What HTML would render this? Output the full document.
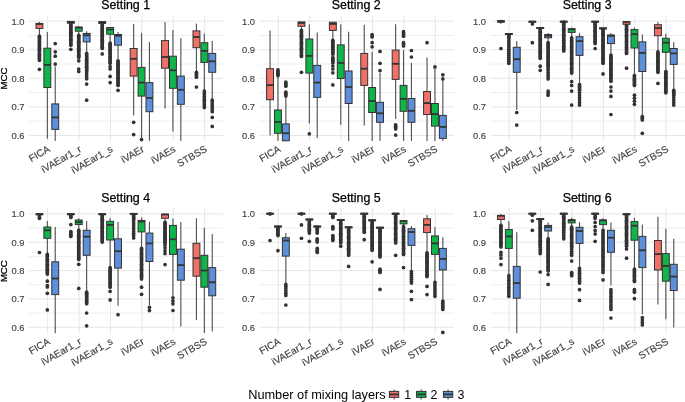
<!DOCTYPE html>
<html><head><meta charset="utf-8"><style>
html,body{margin:0;padding:0;background:#fff;}
svg{display:block;font-family:"Liberation Sans",sans-serif;will-change:transform;filter:blur(0.3px);}
.yt{font-size:9.4px;fill:#444;text-anchor:end;stroke:#444;stroke-width:0.15px;}
.xt{font-size:9.9px;fill:#404040;text-anchor:end;stroke:#404040;stroke-width:0.15px;}
.ti{font-size:12.4px;fill:#000;text-anchor:middle;stroke:#000;stroke-width:0.25px;}
.mc{font-size:9.6px;fill:#000;text-anchor:middle;stroke:#000;stroke-width:0.3px;}
.lg{font-size:12.4px;fill:#000;}
.wh{stroke:#555;stroke-width:1.15;}
.bx{stroke:#333;stroke-width:1;}
.md{stroke:#333;stroke-width:1.8;}
circle{fill:#333;}
</style></head><body>
<svg width="685" height="402" viewBox="0 0 685 402">
<rect width="685" height="402" fill="#fff"/>
<line x1="28.8" x2="223.48" y1="35.48" y2="35.48" stroke="#EBEBEB" stroke-width="0.85"/>
<line x1="28.8" x2="223.48" y1="64.03" y2="64.03" stroke="#EBEBEB" stroke-width="0.85"/>
<line x1="28.8" x2="223.48" y1="92.58" y2="92.58" stroke="#EBEBEB" stroke-width="0.85"/>
<line x1="28.8" x2="223.48" y1="121.13" y2="121.13" stroke="#EBEBEB" stroke-width="0.85"/>
<line x1="28.8" x2="223.48" y1="21.2" y2="21.2" stroke="#E6E6E6" stroke-width="1"/>
<line x1="28.8" x2="223.48" y1="49.75" y2="49.75" stroke="#E6E6E6" stroke-width="1"/>
<line x1="28.8" x2="223.48" y1="78.3" y2="78.3" stroke="#E6E6E6" stroke-width="1"/>
<line x1="28.8" x2="223.48" y1="106.85" y2="106.85" stroke="#E6E6E6" stroke-width="1"/>
<line x1="28.8" x2="223.48" y1="135.4" y2="135.4" stroke="#E6E6E6" stroke-width="1"/>
<line x1="47.64" x2="47.64" y1="15.7" y2="141.2" stroke="#E6E6E6" stroke-width="1"/>
<line x1="79.04" x2="79.04" y1="15.7" y2="141.2" stroke="#E6E6E6" stroke-width="1"/>
<line x1="110.44" x2="110.44" y1="15.7" y2="141.2" stroke="#E6E6E6" stroke-width="1"/>
<line x1="141.84" x2="141.84" y1="15.7" y2="141.2" stroke="#E6E6E6" stroke-width="1"/>
<line x1="173.24" x2="173.24" y1="15.7" y2="141.2" stroke="#E6E6E6" stroke-width="1"/>
<line x1="204.64" x2="204.64" y1="15.7" y2="141.2" stroke="#E6E6E6" stroke-width="1"/>
<text x="24.5" y="24.55" class="yt">1.0</text>
<text x="24.5" y="53.1" class="yt">0.9</text>
<text x="24.5" y="81.65" class="yt">0.8</text>
<text x="24.5" y="110.2" class="yt">0.7</text>
<text x="24.5" y="138.75" class="yt">0.6</text>
<text x="125.64" y="9.2" class="ti">Setting 1</text>
<line x1="39.44" x2="39.44" y1="21.9" y2="23.4" class="wh"/>
<line x1="39.44" x2="39.44" y1="28.4" y2="35.3" class="wh"/>
<rect x="35.99" y="23.4" width="6.9" height="5" fill="#EF7166" class="bx"/>
<line x1="35.99" x2="42.89" y1="24" y2="24" class="md"/>
<circle cx="39.44" cy="36.2" r="1.85"/>
<circle cx="39.44" cy="37.41" r="1.85"/>
<circle cx="39.44" cy="38.61" r="1.85"/>
<circle cx="39.44" cy="39.82" r="1.85"/>
<circle cx="39.44" cy="41.02" r="1.85"/>
<circle cx="39.44" cy="42.23" r="1.85"/>
<circle cx="39.44" cy="43.43" r="1.85"/>
<circle cx="39.44" cy="44.64" r="1.85"/>
<circle cx="39.44" cy="45.84" r="1.85"/>
<circle cx="39.44" cy="47.05" r="1.85"/>
<circle cx="39.44" cy="48.25" r="1.85"/>
<circle cx="39.44" cy="49.45" r="1.85"/>
<circle cx="39.44" cy="50.66" r="1.85"/>
<circle cx="39.44" cy="51.87" r="1.85"/>
<circle cx="39.44" cy="53.07" r="1.85"/>
<circle cx="39.44" cy="54.27" r="1.85"/>
<circle cx="39.44" cy="55.48" r="1.85"/>
<circle cx="39.44" cy="56.69" r="1.85"/>
<circle cx="39.44" cy="57.89" r="1.85"/>
<circle cx="39.44" cy="59.09" r="1.85"/>
<circle cx="39.44" cy="60.3" r="1.85"/>
<circle cx="39.44" cy="69.3" r="1.85"/>
<line x1="47.34" x2="47.34" y1="32.1" y2="48.2" class="wh"/>
<line x1="47.34" x2="47.34" y1="87.5" y2="138.8" class="wh"/>
<rect x="43.89" y="48.2" width="6.9" height="39.3" fill="#10B54A" class="bx"/>
<line x1="43.89" x2="50.79" y1="64.9" y2="64.9" class="md"/>
<line x1="55.24" x2="55.24" y1="66.5" y2="103.9" class="wh"/>
<line x1="55.24" x2="55.24" y1="129.4" y2="140.9" class="wh"/>
<rect x="51.79" y="103.9" width="6.9" height="25.5" fill="#5E8FDA" class="bx"/>
<line x1="51.79" x2="58.69" y1="117.4" y2="117.4" class="md"/>
<circle cx="55.24" cy="43.6" r="1.85"/>
<circle cx="55.24" cy="51.8" r="1.85"/>
<circle cx="55.24" cy="56.2" r="1.85"/>
<circle cx="55.24" cy="64.1" r="1.85"/>
<line x1="70.84" x2="70.84" y1="21.4" y2="21.4" class="wh"/>
<line x1="70.84" x2="70.84" y1="23.2" y2="23.4" class="wh"/>
<rect x="67.39" y="21.4" width="6.9" height="1.8" fill="#EF7166" class="bx"/>
<line x1="67.39" x2="74.29" y1="22.3" y2="22.3" class="md"/>
<circle cx="70.84" cy="23.9" r="1.85"/>
<circle cx="70.84" cy="25.08" r="1.85"/>
<circle cx="70.84" cy="26.27" r="1.85"/>
<circle cx="70.84" cy="27.45" r="1.85"/>
<circle cx="70.84" cy="28.63" r="1.85"/>
<circle cx="70.84" cy="29.82" r="1.85"/>
<circle cx="70.84" cy="31" r="1.85"/>
<circle cx="70.84" cy="32.18" r="1.85"/>
<circle cx="70.84" cy="33.37" r="1.85"/>
<circle cx="70.84" cy="34.55" r="1.85"/>
<circle cx="70.84" cy="35.73" r="1.85"/>
<circle cx="70.84" cy="36.92" r="1.85"/>
<circle cx="70.84" cy="38.1" r="1.85"/>
<circle cx="70.84" cy="39.28" r="1.85"/>
<circle cx="70.84" cy="40.47" r="1.85"/>
<circle cx="70.84" cy="41.65" r="1.85"/>
<circle cx="70.84" cy="42.83" r="1.85"/>
<circle cx="70.84" cy="44.02" r="1.85"/>
<circle cx="70.84" cy="45.2" r="1.85"/>
<circle cx="70.84" cy="49.3" r="1.85"/>
<line x1="78.74" x2="78.74" y1="26.3" y2="27.1" class="wh"/>
<line x1="78.74" x2="78.74" y1="31.2" y2="34.5" class="wh"/>
<rect x="75.29" y="27.1" width="6.9" height="4.1" fill="#10B54A" class="bx"/>
<line x1="75.29" x2="82.19" y1="27.6" y2="27.6" class="md"/>
<circle cx="78.74" cy="35.3" r="1.85"/>
<circle cx="78.74" cy="36.47" r="1.85"/>
<circle cx="78.74" cy="37.64" r="1.85"/>
<circle cx="78.74" cy="38.81" r="1.85"/>
<circle cx="78.74" cy="39.97" r="1.85"/>
<circle cx="78.74" cy="41.14" r="1.85"/>
<circle cx="78.74" cy="42.31" r="1.85"/>
<circle cx="78.74" cy="43.48" r="1.85"/>
<circle cx="78.74" cy="44.65" r="1.85"/>
<circle cx="78.74" cy="45.82" r="1.85"/>
<circle cx="78.74" cy="46.98" r="1.85"/>
<circle cx="78.74" cy="48.15" r="1.85"/>
<circle cx="78.74" cy="49.32" r="1.85"/>
<circle cx="78.74" cy="50.49" r="1.85"/>
<circle cx="78.74" cy="51.66" r="1.85"/>
<circle cx="78.74" cy="52.83" r="1.85"/>
<circle cx="78.74" cy="53.99" r="1.85"/>
<circle cx="78.74" cy="55.16" r="1.85"/>
<circle cx="78.74" cy="56.33" r="1.85"/>
<circle cx="78.74" cy="57.5" r="1.85"/>
<circle cx="78.74" cy="60.8" r="1.85"/>
<circle cx="78.74" cy="69" r="1.85"/>
<circle cx="78.74" cy="71.5" r="1.85"/>
<line x1="86.64" x2="86.64" y1="31.2" y2="33.4" class="wh"/>
<line x1="86.64" x2="86.64" y1="41.9" y2="53.4" class="wh"/>
<rect x="83.19" y="33.4" width="6.9" height="8.5" fill="#5E8FDA" class="bx"/>
<line x1="83.19" x2="90.09" y1="35.3" y2="35.3" class="md"/>
<circle cx="86.64" cy="53.4" r="1.85"/>
<circle cx="86.64" cy="54.56" r="1.85"/>
<circle cx="86.64" cy="55.73" r="1.85"/>
<circle cx="86.64" cy="56.89" r="1.85"/>
<circle cx="86.64" cy="58.05" r="1.85"/>
<circle cx="86.64" cy="59.21" r="1.85"/>
<circle cx="86.64" cy="60.38" r="1.85"/>
<circle cx="86.64" cy="61.54" r="1.85"/>
<circle cx="86.64" cy="62.7" r="1.85"/>
<circle cx="86.64" cy="63.86" r="1.85"/>
<circle cx="86.64" cy="65.03" r="1.85"/>
<circle cx="86.64" cy="66.19" r="1.85"/>
<circle cx="86.64" cy="67.35" r="1.85"/>
<circle cx="86.64" cy="68.51" r="1.85"/>
<circle cx="86.64" cy="69.67" r="1.85"/>
<circle cx="86.64" cy="70.84" r="1.85"/>
<circle cx="86.64" cy="72" r="1.85"/>
<circle cx="86.64" cy="74" r="1.85"/>
<circle cx="86.64" cy="76.4" r="1.85"/>
<circle cx="86.64" cy="78.8" r="1.85"/>
<circle cx="86.64" cy="84.1" r="1.85"/>
<circle cx="86.64" cy="100.2" r="1.85"/>
<line x1="102.24" x2="102.24" y1="21.5" y2="21.6" class="wh"/>
<line x1="102.24" x2="102.24" y1="23.4" y2="23.6" class="wh"/>
<rect x="98.79" y="21.6" width="6.9" height="1.8" fill="#EF7166" class="bx"/>
<line x1="98.79" x2="105.69" y1="22.5" y2="22.5" class="md"/>
<circle cx="102.24" cy="24.7" r="1.85"/>
<circle cx="102.24" cy="25.89" r="1.85"/>
<circle cx="102.24" cy="27.08" r="1.85"/>
<circle cx="102.24" cy="28.27" r="1.85"/>
<circle cx="102.24" cy="29.46" r="1.85"/>
<circle cx="102.24" cy="30.65" r="1.85"/>
<circle cx="102.24" cy="31.84" r="1.85"/>
<circle cx="102.24" cy="33.03" r="1.85"/>
<circle cx="102.24" cy="34.22" r="1.85"/>
<circle cx="102.24" cy="35.41" r="1.85"/>
<circle cx="102.24" cy="36.6" r="1.85"/>
<circle cx="102.24" cy="37.79" r="1.85"/>
<circle cx="102.24" cy="38.98" r="1.85"/>
<circle cx="102.24" cy="40.17" r="1.85"/>
<circle cx="102.24" cy="41.36" r="1.85"/>
<circle cx="102.24" cy="42.55" r="1.85"/>
<circle cx="102.24" cy="43.74" r="1.85"/>
<circle cx="102.24" cy="44.93" r="1.85"/>
<circle cx="102.24" cy="46.12" r="1.85"/>
<circle cx="102.24" cy="47.31" r="1.85"/>
<circle cx="102.24" cy="48.5" r="1.85"/>
<circle cx="102.24" cy="53.9" r="1.85"/>
<line x1="110.14" x2="110.14" y1="27.1" y2="27.5" class="wh"/>
<line x1="110.14" x2="110.14" y1="34.2" y2="43" class="wh"/>
<rect x="106.69" y="27.5" width="6.9" height="6.7" fill="#10B54A" class="bx"/>
<line x1="106.69" x2="113.59" y1="29.6" y2="29.6" class="md"/>
<circle cx="110.14" cy="43.2" r="1.85"/>
<circle cx="110.14" cy="44.38" r="1.85"/>
<circle cx="110.14" cy="45.56" r="1.85"/>
<circle cx="110.14" cy="46.75" r="1.85"/>
<circle cx="110.14" cy="47.93" r="1.85"/>
<circle cx="110.14" cy="49.11" r="1.85"/>
<circle cx="110.14" cy="50.29" r="1.85"/>
<circle cx="110.14" cy="51.48" r="1.85"/>
<circle cx="110.14" cy="52.66" r="1.85"/>
<circle cx="110.14" cy="53.84" r="1.85"/>
<circle cx="110.14" cy="55.02" r="1.85"/>
<circle cx="110.14" cy="56.21" r="1.85"/>
<circle cx="110.14" cy="57.39" r="1.85"/>
<circle cx="110.14" cy="58.57" r="1.85"/>
<circle cx="110.14" cy="59.75" r="1.85"/>
<circle cx="110.14" cy="60.94" r="1.85"/>
<circle cx="110.14" cy="62.12" r="1.85"/>
<circle cx="110.14" cy="63.3" r="1.85"/>
<circle cx="110.14" cy="66.5" r="1.85"/>
<circle cx="110.14" cy="69" r="1.85"/>
<circle cx="110.14" cy="76.4" r="1.85"/>
<circle cx="110.14" cy="82.6" r="1.85"/>
<line x1="118.04" x2="118.04" y1="32.1" y2="34.5" class="wh"/>
<line x1="118.04" x2="118.04" y1="45.2" y2="60.8" class="wh"/>
<rect x="114.59" y="34.5" width="6.9" height="10.7" fill="#5E8FDA" class="bx"/>
<line x1="114.59" x2="121.49" y1="35.7" y2="35.7" class="md"/>
<circle cx="118.04" cy="60.8" r="1.85"/>
<circle cx="118.04" cy="61.97" r="1.85"/>
<circle cx="118.04" cy="63.14" r="1.85"/>
<circle cx="118.04" cy="64.31" r="1.85"/>
<circle cx="118.04" cy="65.49" r="1.85"/>
<circle cx="118.04" cy="66.66" r="1.85"/>
<circle cx="118.04" cy="67.83" r="1.85"/>
<circle cx="118.04" cy="69" r="1.85"/>
<circle cx="118.04" cy="70.17" r="1.85"/>
<circle cx="118.04" cy="71.34" r="1.85"/>
<circle cx="118.04" cy="72.51" r="1.85"/>
<circle cx="118.04" cy="73.69" r="1.85"/>
<circle cx="118.04" cy="74.86" r="1.85"/>
<circle cx="118.04" cy="76.03" r="1.85"/>
<circle cx="118.04" cy="77.2" r="1.85"/>
<circle cx="118.04" cy="78.37" r="1.85"/>
<circle cx="118.04" cy="79.54" r="1.85"/>
<circle cx="118.04" cy="80.71" r="1.85"/>
<circle cx="118.04" cy="81.89" r="1.85"/>
<circle cx="118.04" cy="83.06" r="1.85"/>
<circle cx="118.04" cy="84.23" r="1.85"/>
<circle cx="118.04" cy="85.4" r="1.85"/>
<circle cx="118.04" cy="90.3" r="1.85"/>
<line x1="133.64" x2="133.64" y1="23.9" y2="48.5" class="wh"/>
<line x1="133.64" x2="133.64" y1="76.1" y2="115.4" class="wh"/>
<rect x="130.19" y="48.5" width="6.9" height="27.6" fill="#EF7166" class="bx"/>
<line x1="130.19" x2="137.09" y1="58.8" y2="58.8" class="md"/>
<circle cx="133.64" cy="122.3" r="1.85"/>
<circle cx="133.64" cy="134.6" r="1.85"/>
<line x1="141.54" x2="141.54" y1="32.9" y2="67.4" class="wh"/>
<line x1="141.54" x2="141.54" y1="96.1" y2="139.6" class="wh"/>
<rect x="138.09" y="67.4" width="6.9" height="28.7" fill="#10B54A" class="bx"/>
<line x1="138.09" x2="144.99" y1="82.6" y2="82.6" class="md"/>
<circle cx="141.54" cy="139.6" r="1.85"/>
<line x1="149.44" x2="149.44" y1="41.9" y2="82.6" class="wh"/>
<line x1="149.44" x2="149.44" y1="111.7" y2="140.9" class="wh"/>
<rect x="145.99" y="82.6" width="6.9" height="29.1" fill="#5E8FDA" class="bx"/>
<line x1="145.99" x2="152.89" y1="98" y2="98" class="md"/>
<line x1="165.04" x2="165.04" y1="21.9" y2="40.6" class="wh"/>
<line x1="165.04" x2="165.04" y1="68.2" y2="108.4" class="wh"/>
<rect x="161.59" y="40.6" width="6.9" height="27.6" fill="#EF7166" class="bx"/>
<line x1="161.59" x2="168.49" y1="57" y2="57" class="md"/>
<line x1="172.94" x2="172.94" y1="29.9" y2="56.2" class="wh"/>
<line x1="172.94" x2="172.94" y1="88.3" y2="131.4" class="wh"/>
<rect x="169.49" y="56.2" width="6.9" height="32.1" fill="#10B54A" class="bx"/>
<line x1="169.49" x2="176.39" y1="70.3" y2="70.3" class="md"/>
<line x1="180.84" x2="180.84" y1="38.3" y2="76.1" class="wh"/>
<line x1="180.84" x2="180.84" y1="104.3" y2="140.9" class="wh"/>
<rect x="177.39" y="76.1" width="6.9" height="28.2" fill="#5E8FDA" class="bx"/>
<line x1="177.39" x2="184.29" y1="89.8" y2="89.8" class="md"/>
<line x1="196.44" x2="196.44" y1="23.5" y2="30.9" class="wh"/>
<line x1="196.44" x2="196.44" y1="47.7" y2="71.5" class="wh"/>
<rect x="192.99" y="30.9" width="6.9" height="16.8" fill="#EF7166" class="bx"/>
<line x1="192.99" x2="199.89" y1="37" y2="37" class="md"/>
<circle cx="196.44" cy="72.3" r="1.85"/>
<circle cx="196.44" cy="73.53" r="1.85"/>
<circle cx="196.44" cy="74.75" r="1.85"/>
<circle cx="196.44" cy="75.97" r="1.85"/>
<circle cx="196.44" cy="77.2" r="1.85"/>
<circle cx="196.44" cy="87" r="1.85"/>
<line x1="204.34" x2="204.34" y1="33.4" y2="42.7" class="wh"/>
<line x1="204.34" x2="204.34" y1="62.4" y2="91.1" class="wh"/>
<rect x="200.89" y="42.7" width="6.9" height="19.7" fill="#10B54A" class="bx"/>
<line x1="200.89" x2="207.79" y1="50.9" y2="50.9" class="md"/>
<circle cx="204.34" cy="91.1" r="1.85"/>
<circle cx="204.34" cy="92.93" r="1.85"/>
<circle cx="204.34" cy="94.77" r="1.85"/>
<circle cx="204.34" cy="96.6" r="1.85"/>
<circle cx="204.34" cy="98.43" r="1.85"/>
<circle cx="204.34" cy="100.27" r="1.85"/>
<circle cx="204.34" cy="102.1" r="1.85"/>
<circle cx="204.34" cy="103.93" r="1.85"/>
<circle cx="204.34" cy="105.77" r="1.85"/>
<circle cx="204.34" cy="107.6" r="1.85"/>
<line x1="212.24" x2="212.24" y1="41.1" y2="53.4" class="wh"/>
<line x1="212.24" x2="212.24" y1="72.3" y2="100.2" class="wh"/>
<rect x="208.79" y="53.4" width="6.9" height="18.9" fill="#5E8FDA" class="bx"/>
<line x1="208.79" x2="215.69" y1="61.3" y2="61.3" class="md"/>
<circle cx="212.24" cy="100.2" r="1.85"/>
<circle cx="212.24" cy="102.12" r="1.85"/>
<circle cx="212.24" cy="104.03" r="1.85"/>
<circle cx="212.24" cy="105.95" r="1.85"/>
<circle cx="212.24" cy="107.87" r="1.85"/>
<circle cx="212.24" cy="109.78" r="1.85"/>
<circle cx="212.24" cy="111.7" r="1.85"/>
<circle cx="212.24" cy="117.4" r="1.85"/>
<circle cx="212.24" cy="126.4" r="1.85"/>
<text transform="translate(50.64 151) rotate(-30)" class="xt">FICA</text>
<text transform="translate(82.04 151) rotate(-30)" class="xt">iVAEar1_r</text>
<text transform="translate(113.44 151) rotate(-30)" class="xt">iVAEar1_s</text>
<text transform="translate(144.84 151) rotate(-30)" class="xt">iVAEr</text>
<text transform="translate(176.24 151) rotate(-30)" class="xt">iVAEs</text>
<text transform="translate(207.64 151) rotate(-30)" class="xt">STBSS</text>
<line x1="259.4" x2="454.08" y1="35.48" y2="35.48" stroke="#EBEBEB" stroke-width="0.85"/>
<line x1="259.4" x2="454.08" y1="64.03" y2="64.03" stroke="#EBEBEB" stroke-width="0.85"/>
<line x1="259.4" x2="454.08" y1="92.58" y2="92.58" stroke="#EBEBEB" stroke-width="0.85"/>
<line x1="259.4" x2="454.08" y1="121.13" y2="121.13" stroke="#EBEBEB" stroke-width="0.85"/>
<line x1="259.4" x2="454.08" y1="21.2" y2="21.2" stroke="#E6E6E6" stroke-width="1"/>
<line x1="259.4" x2="454.08" y1="49.75" y2="49.75" stroke="#E6E6E6" stroke-width="1"/>
<line x1="259.4" x2="454.08" y1="78.3" y2="78.3" stroke="#E6E6E6" stroke-width="1"/>
<line x1="259.4" x2="454.08" y1="106.85" y2="106.85" stroke="#E6E6E6" stroke-width="1"/>
<line x1="259.4" x2="454.08" y1="135.4" y2="135.4" stroke="#E6E6E6" stroke-width="1"/>
<line x1="278.24" x2="278.24" y1="15.7" y2="141.2" stroke="#E6E6E6" stroke-width="1"/>
<line x1="309.64" x2="309.64" y1="15.7" y2="141.2" stroke="#E6E6E6" stroke-width="1"/>
<line x1="341.04" x2="341.04" y1="15.7" y2="141.2" stroke="#E6E6E6" stroke-width="1"/>
<line x1="372.44" x2="372.44" y1="15.7" y2="141.2" stroke="#E6E6E6" stroke-width="1"/>
<line x1="403.84" x2="403.84" y1="15.7" y2="141.2" stroke="#E6E6E6" stroke-width="1"/>
<line x1="435.24" x2="435.24" y1="15.7" y2="141.2" stroke="#E6E6E6" stroke-width="1"/>
<text x="255.1" y="24.55" class="yt">1.0</text>
<text x="255.1" y="53.1" class="yt">0.9</text>
<text x="255.1" y="81.65" class="yt">0.8</text>
<text x="255.1" y="110.2" class="yt">0.7</text>
<text x="255.1" y="138.75" class="yt">0.6</text>
<text x="356.24" y="9.2" class="ti">Setting 2</text>
<line x1="270.04" x2="270.04" y1="30.4" y2="68.7" class="wh"/>
<line x1="270.04" x2="270.04" y1="99.7" y2="135.4" class="wh"/>
<rect x="266.59" y="68.7" width="6.9" height="31" fill="#EF7166" class="bx"/>
<line x1="266.59" x2="273.49" y1="85.1" y2="85.1" class="md"/>
<line x1="277.94" x2="277.94" y1="76" y2="110" class="wh"/>
<line x1="277.94" x2="277.94" y1="133.3" y2="140.8" class="wh"/>
<rect x="274.49" y="110" width="6.9" height="23.3" fill="#10B54A" class="bx"/>
<line x1="274.49" x2="281.39" y1="122" y2="122" class="md"/>
<circle cx="277.94" cy="69.8" r="1.85"/>
<circle cx="277.94" cy="70.96" r="1.85"/>
<circle cx="277.94" cy="72.12" r="1.85"/>
<circle cx="277.94" cy="73.28" r="1.85"/>
<circle cx="277.94" cy="74.44" r="1.85"/>
<circle cx="277.94" cy="75.6" r="1.85"/>
<line x1="285.84" x2="285.84" y1="96" y2="123.9" class="wh"/>
<line x1="285.84" x2="285.84" y1="140.8" y2="140.8" class="wh"/>
<rect x="282.39" y="123.9" width="6.9" height="16.9" fill="#5E8FDA" class="bx"/>
<line x1="282.39" x2="289.29" y1="133.3" y2="133.3" class="md"/>
<circle cx="285.84" cy="82.1" r="1.85"/>
<circle cx="285.84" cy="83.47" r="1.85"/>
<circle cx="285.84" cy="84.83" r="1.85"/>
<circle cx="285.84" cy="86.2" r="1.85"/>
<circle cx="285.84" cy="92" r="1.85"/>
<circle cx="285.84" cy="93.33" r="1.85"/>
<circle cx="285.84" cy="94.67" r="1.85"/>
<circle cx="285.84" cy="96" r="1.85"/>
<line x1="301.44" x2="301.44" y1="21.9" y2="21.9" class="wh"/>
<line x1="301.44" x2="301.44" y1="26.3" y2="30.4" class="wh"/>
<rect x="297.99" y="21.9" width="6.9" height="4.4" fill="#EF7166" class="bx"/>
<line x1="297.99" x2="304.89" y1="23" y2="23" class="md"/>
<circle cx="301.44" cy="30.4" r="1.85"/>
<circle cx="301.44" cy="31.58" r="1.85"/>
<circle cx="301.44" cy="32.76" r="1.85"/>
<circle cx="301.44" cy="33.95" r="1.85"/>
<circle cx="301.44" cy="35.13" r="1.85"/>
<circle cx="301.44" cy="36.31" r="1.85"/>
<circle cx="301.44" cy="37.49" r="1.85"/>
<circle cx="301.44" cy="38.67" r="1.85"/>
<circle cx="301.44" cy="39.85" r="1.85"/>
<circle cx="301.44" cy="41.04" r="1.85"/>
<circle cx="301.44" cy="42.22" r="1.85"/>
<circle cx="301.44" cy="43.4" r="1.85"/>
<circle cx="301.44" cy="44.58" r="1.85"/>
<circle cx="301.44" cy="45.76" r="1.85"/>
<circle cx="301.44" cy="46.95" r="1.85"/>
<circle cx="301.44" cy="48.13" r="1.85"/>
<circle cx="301.44" cy="49.31" r="1.85"/>
<circle cx="301.44" cy="50.49" r="1.85"/>
<circle cx="301.44" cy="51.67" r="1.85"/>
<circle cx="301.44" cy="52.85" r="1.85"/>
<circle cx="301.44" cy="54.04" r="1.85"/>
<circle cx="301.44" cy="55.22" r="1.85"/>
<circle cx="301.44" cy="56.4" r="1.85"/>
<circle cx="301.44" cy="72.3" r="1.85"/>
<line x1="309.34" x2="309.34" y1="24.2" y2="39" class="wh"/>
<line x1="309.34" x2="309.34" y1="73.1" y2="123.6" class="wh"/>
<rect x="305.89" y="39" width="6.9" height="34.1" fill="#10B54A" class="bx"/>
<line x1="305.89" x2="312.79" y1="55.9" y2="55.9" class="md"/>
<circle cx="309.34" cy="133.8" r="1.85"/>
<line x1="317.24" x2="317.24" y1="32.6" y2="65.4" class="wh"/>
<line x1="317.24" x2="317.24" y1="97.4" y2="137.9" class="wh"/>
<rect x="313.79" y="65.4" width="6.9" height="32" fill="#5E8FDA" class="bx"/>
<line x1="313.79" x2="320.69" y1="82.6" y2="82.6" class="md"/>
<line x1="332.84" x2="332.84" y1="22.2" y2="22.2" class="wh"/>
<line x1="332.84" x2="332.84" y1="30.4" y2="40.3" class="wh"/>
<rect x="329.39" y="22.2" width="6.9" height="8.2" fill="#EF7166" class="bx"/>
<line x1="329.39" x2="336.29" y1="23.9" y2="23.9" class="md"/>
<circle cx="332.84" cy="40.3" r="1.85"/>
<circle cx="332.84" cy="41.46" r="1.85"/>
<circle cx="332.84" cy="42.62" r="1.85"/>
<circle cx="332.84" cy="43.77" r="1.85"/>
<circle cx="332.84" cy="44.93" r="1.85"/>
<circle cx="332.84" cy="46.09" r="1.85"/>
<circle cx="332.84" cy="47.25" r="1.85"/>
<circle cx="332.84" cy="48.41" r="1.85"/>
<circle cx="332.84" cy="49.57" r="1.85"/>
<circle cx="332.84" cy="50.73" r="1.85"/>
<circle cx="332.84" cy="51.88" r="1.85"/>
<circle cx="332.84" cy="53.04" r="1.85"/>
<circle cx="332.84" cy="54.2" r="1.85"/>
<circle cx="332.84" cy="57.5" r="1.85"/>
<circle cx="332.84" cy="58.6" r="1.85"/>
<circle cx="332.84" cy="59.7" r="1.85"/>
<circle cx="332.84" cy="60.8" r="1.85"/>
<circle cx="332.84" cy="61.9" r="1.85"/>
<circle cx="332.84" cy="63" r="1.85"/>
<circle cx="332.84" cy="66" r="1.85"/>
<circle cx="332.84" cy="69" r="1.85"/>
<circle cx="332.84" cy="72.8" r="1.85"/>
<circle cx="332.84" cy="84.9" r="1.85"/>
<line x1="340.74" x2="340.74" y1="24.2" y2="44.9" class="wh"/>
<line x1="340.74" x2="340.74" y1="78.5" y2="124.8" class="wh"/>
<rect x="337.29" y="44.9" width="6.9" height="33.6" fill="#10B54A" class="bx"/>
<line x1="337.29" x2="344.19" y1="62.9" y2="62.9" class="md"/>
<line x1="348.64" x2="348.64" y1="31.7" y2="71" class="wh"/>
<line x1="348.64" x2="348.64" y1="103.5" y2="140.9" class="wh"/>
<rect x="345.19" y="71" width="6.9" height="32.5" fill="#5E8FDA" class="bx"/>
<line x1="345.19" x2="352.09" y1="87" y2="87" class="md"/>
<line x1="364.24" x2="364.24" y1="24.7" y2="53.4" class="wh"/>
<line x1="364.24" x2="364.24" y1="85.4" y2="125.6" class="wh"/>
<rect x="360.79" y="53.4" width="6.9" height="32" fill="#EF7166" class="bx"/>
<line x1="360.79" x2="367.69" y1="68.7" y2="68.7" class="md"/>
<line x1="372.14" x2="372.14" y1="51.8" y2="87.5" class="wh"/>
<line x1="372.14" x2="372.14" y1="112.5" y2="140.9" class="wh"/>
<rect x="368.69" y="87.5" width="6.9" height="25" fill="#10B54A" class="bx"/>
<line x1="368.69" x2="375.59" y1="101" y2="101" class="md"/>
<circle cx="372.14" cy="34.5" r="1.85"/>
<circle cx="372.14" cy="35.75" r="1.85"/>
<circle cx="372.14" cy="37" r="1.85"/>
<circle cx="372.14" cy="42.7" r="1.85"/>
<circle cx="372.14" cy="46.8" r="1.85"/>
<line x1="380.04" x2="380.04" y1="73.1" y2="102.3" class="wh"/>
<line x1="380.04" x2="380.04" y1="122.3" y2="140.9" class="wh"/>
<rect x="376.59" y="102.3" width="6.9" height="20" fill="#5E8FDA" class="bx"/>
<line x1="376.59" x2="383.49" y1="113.3" y2="113.3" class="md"/>
<circle cx="380.04" cy="51.4" r="1.85"/>
<circle cx="380.04" cy="63.3" r="1.85"/>
<circle cx="380.04" cy="70.6" r="1.85"/>
<line x1="395.64" x2="395.64" y1="24.2" y2="50.1" class="wh"/>
<line x1="395.64" x2="395.64" y1="79.4" y2="119" class="wh"/>
<rect x="392.19" y="50.1" width="6.9" height="29.3" fill="#EF7166" class="bx"/>
<line x1="392.19" x2="399.09" y1="63.8" y2="63.8" class="md"/>
<circle cx="395.64" cy="124.8" r="1.85"/>
<circle cx="395.64" cy="126.17" r="1.85"/>
<circle cx="395.64" cy="127.53" r="1.85"/>
<circle cx="395.64" cy="128.9" r="1.85"/>
<circle cx="395.64" cy="135.1" r="1.85"/>
<line x1="403.54" x2="403.54" y1="50.1" y2="85.4" class="wh"/>
<line x1="403.54" x2="403.54" y1="111.3" y2="140.9" class="wh"/>
<rect x="400.09" y="85.4" width="6.9" height="25.9" fill="#10B54A" class="bx"/>
<line x1="400.09" x2="406.99" y1="98.9" y2="98.9" class="md"/>
<circle cx="403.54" cy="31.7" r="1.85"/>
<circle cx="403.54" cy="32.83" r="1.85"/>
<circle cx="403.54" cy="33.95" r="1.85"/>
<circle cx="403.54" cy="35.08" r="1.85"/>
<circle cx="403.54" cy="36.2" r="1.85"/>
<circle cx="403.54" cy="42.7" r="1.85"/>
<circle cx="403.54" cy="43.8" r="1.85"/>
<circle cx="403.54" cy="44.9" r="1.85"/>
<circle cx="403.54" cy="46" r="1.85"/>
<line x1="411.44" x2="411.44" y1="62.9" y2="98.5" class="wh"/>
<line x1="411.44" x2="411.44" y1="122.3" y2="140.9" class="wh"/>
<rect x="407.99" y="98.5" width="6.9" height="23.8" fill="#5E8FDA" class="bx"/>
<line x1="407.99" x2="414.89" y1="110.8" y2="110.8" class="md"/>
<circle cx="411.44" cy="50.5" r="1.85"/>
<circle cx="411.44" cy="57" r="1.85"/>
<line x1="427.04" x2="427.04" y1="57.5" y2="91.5" class="wh"/>
<line x1="427.04" x2="427.04" y1="114.5" y2="140.9" class="wh"/>
<rect x="423.59" y="91.5" width="6.9" height="23" fill="#EF7166" class="bx"/>
<line x1="423.59" x2="430.49" y1="103.1" y2="103.1" class="md"/>
<circle cx="427.04" cy="42.7" r="1.85"/>
<line x1="434.94" x2="434.94" y1="68.2" y2="103.5" class="wh"/>
<line x1="434.94" x2="434.94" y1="126.1" y2="140.9" class="wh"/>
<rect x="431.49" y="103.5" width="6.9" height="22.6" fill="#10B54A" class="bx"/>
<line x1="431.49" x2="438.39" y1="114.1" y2="114.1" class="md"/>
<circle cx="434.94" cy="66.9" r="1.85"/>
<line x1="442.84" x2="442.84" y1="80.5" y2="115.4" class="wh"/>
<line x1="442.84" x2="442.84" y1="138.4" y2="140.9" class="wh"/>
<rect x="439.39" y="115.4" width="6.9" height="23" fill="#5E8FDA" class="bx"/>
<line x1="439.39" x2="446.29" y1="126.9" y2="126.9" class="md"/>
<circle cx="442.84" cy="74.8" r="1.85"/>
<circle cx="442.84" cy="78.9" r="1.85"/>
<text transform="translate(281.24 151) rotate(-30)" class="xt">FICA</text>
<text transform="translate(312.64 151) rotate(-30)" class="xt">iVAEar1_r</text>
<text transform="translate(344.04 151) rotate(-30)" class="xt">iVAEar1_s</text>
<text transform="translate(375.44 151) rotate(-30)" class="xt">iVAEr</text>
<text transform="translate(406.84 151) rotate(-30)" class="xt">iVAEs</text>
<text transform="translate(438.24 151) rotate(-30)" class="xt">STBSS</text>
<line x1="490.3" x2="684.98" y1="35.48" y2="35.48" stroke="#EBEBEB" stroke-width="0.85"/>
<line x1="490.3" x2="684.98" y1="64.03" y2="64.03" stroke="#EBEBEB" stroke-width="0.85"/>
<line x1="490.3" x2="684.98" y1="92.58" y2="92.58" stroke="#EBEBEB" stroke-width="0.85"/>
<line x1="490.3" x2="684.98" y1="121.13" y2="121.13" stroke="#EBEBEB" stroke-width="0.85"/>
<line x1="490.3" x2="684.98" y1="21.2" y2="21.2" stroke="#E6E6E6" stroke-width="1"/>
<line x1="490.3" x2="684.98" y1="49.75" y2="49.75" stroke="#E6E6E6" stroke-width="1"/>
<line x1="490.3" x2="684.98" y1="78.3" y2="78.3" stroke="#E6E6E6" stroke-width="1"/>
<line x1="490.3" x2="684.98" y1="106.85" y2="106.85" stroke="#E6E6E6" stroke-width="1"/>
<line x1="490.3" x2="684.98" y1="135.4" y2="135.4" stroke="#E6E6E6" stroke-width="1"/>
<line x1="509.14" x2="509.14" y1="15.7" y2="141.2" stroke="#E6E6E6" stroke-width="1"/>
<line x1="540.54" x2="540.54" y1="15.7" y2="141.2" stroke="#E6E6E6" stroke-width="1"/>
<line x1="571.94" x2="571.94" y1="15.7" y2="141.2" stroke="#E6E6E6" stroke-width="1"/>
<line x1="603.34" x2="603.34" y1="15.7" y2="141.2" stroke="#E6E6E6" stroke-width="1"/>
<line x1="634.74" x2="634.74" y1="15.7" y2="141.2" stroke="#E6E6E6" stroke-width="1"/>
<line x1="666.14" x2="666.14" y1="15.7" y2="141.2" stroke="#E6E6E6" stroke-width="1"/>
<text x="486" y="24.55" class="yt">1.0</text>
<text x="486" y="53.1" class="yt">0.9</text>
<text x="486" y="81.65" class="yt">0.8</text>
<text x="486" y="110.2" class="yt">0.7</text>
<text x="486" y="138.75" class="yt">0.6</text>
<text x="587.14" y="9.2" class="ti">Setting 3</text>
<line x1="500.94" x2="500.94" y1="20.2" y2="20.7" class="wh"/>
<line x1="500.94" x2="500.94" y1="22.1" y2="22.6" class="wh"/>
<rect x="497.49" y="20.7" width="6.9" height="1.4" fill="#EF7166" class="bx"/>
<line x1="497.49" x2="504.39" y1="21.4" y2="21.4" class="md"/>
<circle cx="500.94" cy="21.6" r="1.85"/>
<circle cx="500.94" cy="48.5" r="1.85"/>
<line x1="508.84" x2="508.84" y1="33.5" y2="33.5" class="wh"/>
<line x1="508.84" x2="508.84" y1="34.5" y2="34.5" class="wh"/>
<rect x="505.39" y="33.5" width="6.9" height="1" fill="#10B54A" class="bx"/>
<line x1="505.39" x2="512.29" y1="34" y2="34" class="md"/>
<circle cx="508.84" cy="35.5" r="1.85"/>
<circle cx="508.84" cy="37" r="1.85"/>
<circle cx="508.84" cy="37" r="1.85"/>
<circle cx="508.84" cy="39.02" r="1.85"/>
<circle cx="508.84" cy="41.05" r="1.85"/>
<circle cx="508.84" cy="43.07" r="1.85"/>
<circle cx="508.84" cy="45.09" r="1.85"/>
<circle cx="508.84" cy="47.12" r="1.85"/>
<circle cx="508.84" cy="49.14" r="1.85"/>
<circle cx="508.84" cy="51.16" r="1.85"/>
<circle cx="508.84" cy="53.18" r="1.85"/>
<circle cx="508.84" cy="55.21" r="1.85"/>
<circle cx="508.84" cy="57.23" r="1.85"/>
<circle cx="508.84" cy="59.25" r="1.85"/>
<circle cx="508.84" cy="61.28" r="1.85"/>
<circle cx="508.84" cy="63.3" r="1.85"/>
<line x1="516.74" x2="516.74" y1="41.1" y2="47.3" class="wh"/>
<line x1="516.74" x2="516.74" y1="72.3" y2="110" class="wh"/>
<rect x="513.29" y="47.3" width="6.9" height="25" fill="#5E8FDA" class="bx"/>
<line x1="513.29" x2="520.19" y1="59.2" y2="59.2" class="md"/>
<circle cx="516.74" cy="112.5" r="1.85"/>
<circle cx="516.74" cy="125.1" r="1.85"/>
<line x1="532.34" x2="532.34" y1="21.2" y2="21.2" class="wh"/>
<line x1="532.34" x2="532.34" y1="22.2" y2="22.2" class="wh"/>
<rect x="528.89" y="21.2" width="6.9" height="1" fill="#EF7166" class="bx"/>
<line x1="528.89" x2="535.79" y1="21.7" y2="21.7" class="md"/>
<circle cx="532.34" cy="23.9" r="1.85"/>
<circle cx="532.34" cy="42.7" r="1.85"/>
<line x1="540.24" x2="540.24" y1="27.5" y2="27.5" class="wh"/>
<line x1="540.24" x2="540.24" y1="28.5" y2="28.5" class="wh"/>
<rect x="536.79" y="27.5" width="6.9" height="1" fill="#10B54A" class="bx"/>
<line x1="536.79" x2="543.69" y1="28" y2="28" class="md"/>
<circle cx="540.24" cy="28.8" r="1.85"/>
<circle cx="540.24" cy="29.98" r="1.85"/>
<circle cx="540.24" cy="31.16" r="1.85"/>
<circle cx="540.24" cy="32.34" r="1.85"/>
<circle cx="540.24" cy="33.52" r="1.85"/>
<circle cx="540.24" cy="34.7" r="1.85"/>
<circle cx="540.24" cy="35.88" r="1.85"/>
<circle cx="540.24" cy="37.06" r="1.85"/>
<circle cx="540.24" cy="38.24" r="1.85"/>
<circle cx="540.24" cy="39.42" r="1.85"/>
<circle cx="540.24" cy="40.6" r="1.85"/>
<circle cx="540.24" cy="41.78" r="1.85"/>
<circle cx="540.24" cy="42.96" r="1.85"/>
<circle cx="540.24" cy="44.14" r="1.85"/>
<circle cx="540.24" cy="45.32" r="1.85"/>
<circle cx="540.24" cy="46.5" r="1.85"/>
<circle cx="540.24" cy="47.68" r="1.85"/>
<circle cx="540.24" cy="48.86" r="1.85"/>
<circle cx="540.24" cy="50.04" r="1.85"/>
<circle cx="540.24" cy="51.22" r="1.85"/>
<circle cx="540.24" cy="52.4" r="1.85"/>
<circle cx="540.24" cy="53.58" r="1.85"/>
<circle cx="540.24" cy="54.76" r="1.85"/>
<circle cx="540.24" cy="55.94" r="1.85"/>
<circle cx="540.24" cy="57.12" r="1.85"/>
<circle cx="540.24" cy="58.3" r="1.85"/>
<circle cx="540.24" cy="66.2" r="1.85"/>
<circle cx="540.24" cy="70.3" r="1.85"/>
<line x1="548.14" x2="548.14" y1="32.9" y2="34.5" class="wh"/>
<line x1="548.14" x2="548.14" y1="37.8" y2="42.7" class="wh"/>
<rect x="544.69" y="34.5" width="6.9" height="3.3" fill="#5E8FDA" class="bx"/>
<line x1="544.69" x2="551.59" y1="35.8" y2="35.8" class="md"/>
<circle cx="548.14" cy="42.7" r="1.85"/>
<circle cx="548.14" cy="43.93" r="1.85"/>
<circle cx="548.14" cy="45.15" r="1.85"/>
<circle cx="548.14" cy="46.38" r="1.85"/>
<circle cx="548.14" cy="47.61" r="1.85"/>
<circle cx="548.14" cy="48.83" r="1.85"/>
<circle cx="548.14" cy="50.06" r="1.85"/>
<circle cx="548.14" cy="51.28" r="1.85"/>
<circle cx="548.14" cy="52.51" r="1.85"/>
<circle cx="548.14" cy="53.74" r="1.85"/>
<circle cx="548.14" cy="54.96" r="1.85"/>
<circle cx="548.14" cy="56.19" r="1.85"/>
<circle cx="548.14" cy="57.42" r="1.85"/>
<circle cx="548.14" cy="58.64" r="1.85"/>
<circle cx="548.14" cy="59.87" r="1.85"/>
<circle cx="548.14" cy="61.09" r="1.85"/>
<circle cx="548.14" cy="62.32" r="1.85"/>
<circle cx="548.14" cy="63.55" r="1.85"/>
<circle cx="548.14" cy="64.77" r="1.85"/>
<circle cx="548.14" cy="66" r="1.85"/>
<circle cx="548.14" cy="66" r="1.85"/>
<circle cx="548.14" cy="68.17" r="1.85"/>
<circle cx="548.14" cy="70.33" r="1.85"/>
<circle cx="548.14" cy="72.5" r="1.85"/>
<circle cx="548.14" cy="74.67" r="1.85"/>
<circle cx="548.14" cy="76.83" r="1.85"/>
<circle cx="548.14" cy="79" r="1.85"/>
<circle cx="548.14" cy="91.1" r="1.85"/>
<circle cx="548.14" cy="93.15" r="1.85"/>
<circle cx="548.14" cy="95.2" r="1.85"/>
<line x1="563.74" x2="563.74" y1="21.2" y2="21.2" class="wh"/>
<line x1="563.74" x2="563.74" y1="22.2" y2="22.2" class="wh"/>
<rect x="560.29" y="21.2" width="6.9" height="1" fill="#EF7166" class="bx"/>
<line x1="560.29" x2="567.19" y1="21.7" y2="21.7" class="md"/>
<circle cx="563.74" cy="22.2" r="1.85"/>
<circle cx="563.74" cy="23.4" r="1.85"/>
<circle cx="563.74" cy="24.6" r="1.85"/>
<circle cx="563.74" cy="25.8" r="1.85"/>
<circle cx="563.74" cy="27" r="1.85"/>
<circle cx="563.74" cy="28.2" r="1.85"/>
<circle cx="563.74" cy="29.4" r="1.85"/>
<circle cx="563.74" cy="30.6" r="1.85"/>
<circle cx="563.74" cy="31.8" r="1.85"/>
<circle cx="563.74" cy="33" r="1.85"/>
<circle cx="563.74" cy="34.2" r="1.85"/>
<circle cx="563.74" cy="35.4" r="1.85"/>
<circle cx="563.74" cy="36.6" r="1.85"/>
<circle cx="563.74" cy="37.8" r="1.85"/>
<circle cx="563.74" cy="39" r="1.85"/>
<circle cx="563.74" cy="40.2" r="1.85"/>
<circle cx="563.74" cy="41.4" r="1.85"/>
<circle cx="563.74" cy="42.6" r="1.85"/>
<circle cx="563.74" cy="43.8" r="1.85"/>
<circle cx="563.74" cy="45" r="1.85"/>
<circle cx="563.74" cy="46.2" r="1.85"/>
<circle cx="563.74" cy="47.4" r="1.85"/>
<circle cx="563.74" cy="48.6" r="1.85"/>
<circle cx="563.74" cy="49.8" r="1.85"/>
<circle cx="563.74" cy="51" r="1.85"/>
<line x1="571.64" x2="571.64" y1="27.6" y2="28.8" class="wh"/>
<line x1="571.64" x2="571.64" y1="32.4" y2="37.8" class="wh"/>
<rect x="568.19" y="28.8" width="6.9" height="3.6" fill="#10B54A" class="bx"/>
<line x1="568.19" x2="575.09" y1="29.3" y2="29.3" class="md"/>
<circle cx="571.64" cy="37.8" r="1.85"/>
<circle cx="571.64" cy="39.02" r="1.85"/>
<circle cx="571.64" cy="40.23" r="1.85"/>
<circle cx="571.64" cy="41.45" r="1.85"/>
<circle cx="571.64" cy="42.67" r="1.85"/>
<circle cx="571.64" cy="43.89" r="1.85"/>
<circle cx="571.64" cy="45.1" r="1.85"/>
<circle cx="571.64" cy="46.32" r="1.85"/>
<circle cx="571.64" cy="47.54" r="1.85"/>
<circle cx="571.64" cy="48.76" r="1.85"/>
<circle cx="571.64" cy="49.97" r="1.85"/>
<circle cx="571.64" cy="51.19" r="1.85"/>
<circle cx="571.64" cy="52.41" r="1.85"/>
<circle cx="571.64" cy="53.62" r="1.85"/>
<circle cx="571.64" cy="54.84" r="1.85"/>
<circle cx="571.64" cy="56.06" r="1.85"/>
<circle cx="571.64" cy="57.28" r="1.85"/>
<circle cx="571.64" cy="58.49" r="1.85"/>
<circle cx="571.64" cy="59.71" r="1.85"/>
<circle cx="571.64" cy="60.93" r="1.85"/>
<circle cx="571.64" cy="62.14" r="1.85"/>
<circle cx="571.64" cy="63.36" r="1.85"/>
<circle cx="571.64" cy="64.58" r="1.85"/>
<circle cx="571.64" cy="65.8" r="1.85"/>
<circle cx="571.64" cy="67.01" r="1.85"/>
<circle cx="571.64" cy="68.23" r="1.85"/>
<circle cx="571.64" cy="69.45" r="1.85"/>
<circle cx="571.64" cy="70.67" r="1.85"/>
<circle cx="571.64" cy="71.88" r="1.85"/>
<circle cx="571.64" cy="73.1" r="1.85"/>
<circle cx="571.64" cy="81.6" r="1.85"/>
<circle cx="571.64" cy="85.4" r="1.85"/>
<circle cx="571.64" cy="91.1" r="1.85"/>
<circle cx="571.64" cy="105.1" r="1.85"/>
<line x1="579.54" x2="579.54" y1="32.9" y2="36.7" class="wh"/>
<line x1="579.54" x2="579.54" y1="55.4" y2="84.6" class="wh"/>
<rect x="576.09" y="36.7" width="6.9" height="18.7" fill="#5E8FDA" class="bx"/>
<line x1="576.09" x2="582.99" y1="41.1" y2="41.1" class="md"/>
<circle cx="579.54" cy="84.6" r="1.85"/>
<circle cx="579.54" cy="85.68" r="1.85"/>
<circle cx="579.54" cy="86.76" r="1.85"/>
<circle cx="579.54" cy="87.84" r="1.85"/>
<circle cx="579.54" cy="88.92" r="1.85"/>
<circle cx="579.54" cy="90" r="1.85"/>
<circle cx="579.54" cy="90" r="1.85"/>
<circle cx="579.54" cy="92.52" r="1.85"/>
<circle cx="579.54" cy="95.03" r="1.85"/>
<circle cx="579.54" cy="97.55" r="1.85"/>
<circle cx="579.54" cy="100.07" r="1.85"/>
<circle cx="579.54" cy="102.58" r="1.85"/>
<circle cx="579.54" cy="105.1" r="1.85"/>
<line x1="595.14" x2="595.14" y1="21.2" y2="21.2" class="wh"/>
<line x1="595.14" x2="595.14" y1="22.2" y2="22.2" class="wh"/>
<rect x="591.69" y="21.2" width="6.9" height="1" fill="#EF7166" class="bx"/>
<line x1="591.69" x2="598.59" y1="21.7" y2="21.7" class="md"/>
<circle cx="595.14" cy="23" r="1.85"/>
<circle cx="595.14" cy="24.21" r="1.85"/>
<circle cx="595.14" cy="25.42" r="1.85"/>
<circle cx="595.14" cy="26.64" r="1.85"/>
<circle cx="595.14" cy="27.85" r="1.85"/>
<circle cx="595.14" cy="29.06" r="1.85"/>
<circle cx="595.14" cy="30.27" r="1.85"/>
<circle cx="595.14" cy="31.48" r="1.85"/>
<circle cx="595.14" cy="32.69" r="1.85"/>
<circle cx="595.14" cy="33.91" r="1.85"/>
<circle cx="595.14" cy="35.12" r="1.85"/>
<circle cx="595.14" cy="36.33" r="1.85"/>
<circle cx="595.14" cy="37.54" r="1.85"/>
<circle cx="595.14" cy="38.75" r="1.85"/>
<circle cx="595.14" cy="39.96" r="1.85"/>
<circle cx="595.14" cy="41.18" r="1.85"/>
<circle cx="595.14" cy="42.39" r="1.85"/>
<circle cx="595.14" cy="43.6" r="1.85"/>
<circle cx="595.14" cy="48.5" r="1.85"/>
<line x1="603.04" x2="603.04" y1="27.9" y2="27.9" class="wh"/>
<line x1="603.04" x2="603.04" y1="28.9" y2="28.9" class="wh"/>
<rect x="599.59" y="27.9" width="6.9" height="1" fill="#10B54A" class="bx"/>
<line x1="599.59" x2="606.49" y1="28.4" y2="28.4" class="md"/>
<circle cx="603.04" cy="29.6" r="1.85"/>
<circle cx="603.04" cy="30.8" r="1.85"/>
<circle cx="603.04" cy="32.01" r="1.85"/>
<circle cx="603.04" cy="33.21" r="1.85"/>
<circle cx="603.04" cy="34.41" r="1.85"/>
<circle cx="603.04" cy="35.62" r="1.85"/>
<circle cx="603.04" cy="36.82" r="1.85"/>
<circle cx="603.04" cy="38.02" r="1.85"/>
<circle cx="603.04" cy="39.23" r="1.85"/>
<circle cx="603.04" cy="40.43" r="1.85"/>
<circle cx="603.04" cy="41.64" r="1.85"/>
<circle cx="603.04" cy="42.84" r="1.85"/>
<circle cx="603.04" cy="44.04" r="1.85"/>
<circle cx="603.04" cy="45.25" r="1.85"/>
<circle cx="603.04" cy="46.45" r="1.85"/>
<circle cx="603.04" cy="47.65" r="1.85"/>
<circle cx="603.04" cy="48.86" r="1.85"/>
<circle cx="603.04" cy="50.06" r="1.85"/>
<circle cx="603.04" cy="51.26" r="1.85"/>
<circle cx="603.04" cy="52.47" r="1.85"/>
<circle cx="603.04" cy="53.67" r="1.85"/>
<circle cx="603.04" cy="54.88" r="1.85"/>
<circle cx="603.04" cy="56.08" r="1.85"/>
<circle cx="603.04" cy="57.28" r="1.85"/>
<circle cx="603.04" cy="58.49" r="1.85"/>
<circle cx="603.04" cy="59.69" r="1.85"/>
<circle cx="603.04" cy="60.89" r="1.85"/>
<circle cx="603.04" cy="62.1" r="1.85"/>
<circle cx="603.04" cy="63.3" r="1.85"/>
<circle cx="603.04" cy="73.9" r="1.85"/>
<line x1="610.94" x2="610.94" y1="32.9" y2="35" class="wh"/>
<line x1="610.94" x2="610.94" y1="43.6" y2="55" class="wh"/>
<rect x="607.49" y="35" width="6.9" height="8.6" fill="#5E8FDA" class="bx"/>
<line x1="607.49" x2="614.39" y1="35.8" y2="35.8" class="md"/>
<circle cx="610.94" cy="55" r="1.85"/>
<circle cx="610.94" cy="56.2" r="1.85"/>
<circle cx="610.94" cy="57.39" r="1.85"/>
<circle cx="610.94" cy="58.59" r="1.85"/>
<circle cx="610.94" cy="59.78" r="1.85"/>
<circle cx="610.94" cy="60.98" r="1.85"/>
<circle cx="610.94" cy="62.17" r="1.85"/>
<circle cx="610.94" cy="63.37" r="1.85"/>
<circle cx="610.94" cy="64.56" r="1.85"/>
<circle cx="610.94" cy="65.76" r="1.85"/>
<circle cx="610.94" cy="66.95" r="1.85"/>
<circle cx="610.94" cy="68.15" r="1.85"/>
<circle cx="610.94" cy="69.35" r="1.85"/>
<circle cx="610.94" cy="70.54" r="1.85"/>
<circle cx="610.94" cy="71.74" r="1.85"/>
<circle cx="610.94" cy="72.93" r="1.85"/>
<circle cx="610.94" cy="74.13" r="1.85"/>
<circle cx="610.94" cy="75.32" r="1.85"/>
<circle cx="610.94" cy="76.52" r="1.85"/>
<circle cx="610.94" cy="77.71" r="1.85"/>
<circle cx="610.94" cy="78.91" r="1.85"/>
<circle cx="610.94" cy="80.1" r="1.85"/>
<circle cx="610.94" cy="81.3" r="1.85"/>
<circle cx="610.94" cy="87" r="1.85"/>
<circle cx="610.94" cy="91.1" r="1.85"/>
<circle cx="610.94" cy="96.4" r="1.85"/>
<circle cx="610.94" cy="114.5" r="1.85"/>
<line x1="626.54" x2="626.54" y1="21.5" y2="21.5" class="wh"/>
<line x1="626.54" x2="626.54" y1="24.3" y2="24.5" class="wh"/>
<rect x="623.09" y="21.5" width="6.9" height="2.8" fill="#EF7166" class="bx"/>
<line x1="623.09" x2="629.99" y1="21.9" y2="21.9" class="md"/>
<circle cx="626.54" cy="25.5" r="1.85"/>
<circle cx="626.54" cy="26.71" r="1.85"/>
<circle cx="626.54" cy="27.93" r="1.85"/>
<circle cx="626.54" cy="29.14" r="1.85"/>
<circle cx="626.54" cy="30.35" r="1.85"/>
<circle cx="626.54" cy="31.57" r="1.85"/>
<circle cx="626.54" cy="32.78" r="1.85"/>
<circle cx="626.54" cy="33.99" r="1.85"/>
<circle cx="626.54" cy="35.2" r="1.85"/>
<circle cx="626.54" cy="36.42" r="1.85"/>
<circle cx="626.54" cy="37.63" r="1.85"/>
<circle cx="626.54" cy="38.84" r="1.85"/>
<circle cx="626.54" cy="40.06" r="1.85"/>
<circle cx="626.54" cy="41.27" r="1.85"/>
<circle cx="626.54" cy="42.48" r="1.85"/>
<circle cx="626.54" cy="43.7" r="1.85"/>
<circle cx="626.54" cy="44.91" r="1.85"/>
<circle cx="626.54" cy="46.12" r="1.85"/>
<circle cx="626.54" cy="47.33" r="1.85"/>
<circle cx="626.54" cy="48.55" r="1.85"/>
<circle cx="626.54" cy="49.76" r="1.85"/>
<circle cx="626.54" cy="50.97" r="1.85"/>
<circle cx="626.54" cy="52.19" r="1.85"/>
<circle cx="626.54" cy="53.4" r="1.85"/>
<circle cx="626.54" cy="68.2" r="1.85"/>
<line x1="634.44" x2="634.44" y1="27.5" y2="29.6" class="wh"/>
<line x1="634.44" x2="634.44" y1="48" y2="74.8" class="wh"/>
<rect x="630.99" y="29.6" width="6.9" height="18.4" fill="#10B54A" class="bx"/>
<line x1="630.99" x2="637.89" y1="34.2" y2="34.2" class="md"/>
<circle cx="634.44" cy="75.6" r="1.85"/>
<circle cx="634.44" cy="76.82" r="1.85"/>
<circle cx="634.44" cy="78.05" r="1.85"/>
<circle cx="634.44" cy="79.28" r="1.85"/>
<circle cx="634.44" cy="80.5" r="1.85"/>
<circle cx="634.44" cy="81.72" r="1.85"/>
<circle cx="634.44" cy="82.95" r="1.85"/>
<circle cx="634.44" cy="84.18" r="1.85"/>
<circle cx="634.44" cy="85.4" r="1.85"/>
<circle cx="634.44" cy="95.2" r="1.85"/>
<circle cx="634.44" cy="98.23" r="1.85"/>
<circle cx="634.44" cy="101.27" r="1.85"/>
<circle cx="634.44" cy="104.3" r="1.85"/>
<line x1="642.34" x2="642.34" y1="34.5" y2="41.9" class="wh"/>
<line x1="642.34" x2="642.34" y1="71.5" y2="116.6" class="wh"/>
<rect x="638.89" y="41.9" width="6.9" height="29.6" fill="#5E8FDA" class="bx"/>
<line x1="638.89" x2="645.79" y1="52.9" y2="52.9" class="md"/>
<circle cx="642.34" cy="116.6" r="1.85"/>
<circle cx="642.34" cy="117.7" r="1.85"/>
<circle cx="642.34" cy="118.8" r="1.85"/>
<circle cx="642.34" cy="119.9" r="1.85"/>
<circle cx="642.34" cy="133.3" r="1.85"/>
<line x1="657.94" x2="657.94" y1="21.9" y2="24.7" class="wh"/>
<line x1="657.94" x2="657.94" y1="35.7" y2="51.8" class="wh"/>
<rect x="654.49" y="24.7" width="6.9" height="11" fill="#EF7166" class="bx"/>
<line x1="654.49" x2="661.39" y1="28" y2="28" class="md"/>
<circle cx="657.94" cy="51.8" r="1.85"/>
<circle cx="657.94" cy="53.01" r="1.85"/>
<circle cx="657.94" cy="54.21" r="1.85"/>
<circle cx="657.94" cy="55.42" r="1.85"/>
<circle cx="657.94" cy="56.62" r="1.85"/>
<circle cx="657.94" cy="57.83" r="1.85"/>
<circle cx="657.94" cy="59.04" r="1.85"/>
<circle cx="657.94" cy="60.24" r="1.85"/>
<circle cx="657.94" cy="61.45" r="1.85"/>
<circle cx="657.94" cy="62.65" r="1.85"/>
<circle cx="657.94" cy="63.86" r="1.85"/>
<circle cx="657.94" cy="65.06" r="1.85"/>
<circle cx="657.94" cy="66.27" r="1.85"/>
<circle cx="657.94" cy="67.48" r="1.85"/>
<circle cx="657.94" cy="68.68" r="1.85"/>
<circle cx="657.94" cy="69.89" r="1.85"/>
<circle cx="657.94" cy="71.09" r="1.85"/>
<circle cx="657.94" cy="72.3" r="1.85"/>
<circle cx="657.94" cy="83.4" r="1.85"/>
<line x1="665.84" x2="665.84" y1="33.7" y2="38.3" class="wh"/>
<line x1="665.84" x2="665.84" y1="52.3" y2="71.5" class="wh"/>
<rect x="662.39" y="38.3" width="6.9" height="14" fill="#10B54A" class="bx"/>
<line x1="662.39" x2="669.29" y1="42.7" y2="42.7" class="md"/>
<circle cx="665.84" cy="71.5" r="1.85"/>
<circle cx="665.84" cy="72.68" r="1.85"/>
<circle cx="665.84" cy="73.87" r="1.85"/>
<circle cx="665.84" cy="75.05" r="1.85"/>
<circle cx="665.84" cy="76.23" r="1.85"/>
<circle cx="665.84" cy="77.42" r="1.85"/>
<circle cx="665.84" cy="78.6" r="1.85"/>
<circle cx="665.84" cy="79.78" r="1.85"/>
<circle cx="665.84" cy="80.97" r="1.85"/>
<circle cx="665.84" cy="82.15" r="1.85"/>
<circle cx="665.84" cy="83.33" r="1.85"/>
<circle cx="665.84" cy="84.52" r="1.85"/>
<circle cx="665.84" cy="85.7" r="1.85"/>
<circle cx="665.84" cy="86.88" r="1.85"/>
<circle cx="665.84" cy="88.07" r="1.85"/>
<circle cx="665.84" cy="89.25" r="1.85"/>
<circle cx="665.84" cy="90.43" r="1.85"/>
<circle cx="665.84" cy="91.62" r="1.85"/>
<circle cx="665.84" cy="92.8" r="1.85"/>
<line x1="673.74" x2="673.74" y1="41.9" y2="48.5" class="wh"/>
<line x1="673.74" x2="673.74" y1="64.4" y2="90.3" class="wh"/>
<rect x="670.29" y="48.5" width="6.9" height="15.9" fill="#5E8FDA" class="bx"/>
<line x1="670.29" x2="677.19" y1="53.4" y2="53.4" class="md"/>
<circle cx="673.74" cy="90.3" r="1.85"/>
<circle cx="673.74" cy="91.47" r="1.85"/>
<circle cx="673.74" cy="92.65" r="1.85"/>
<circle cx="673.74" cy="93.83" r="1.85"/>
<circle cx="673.74" cy="95" r="1.85"/>
<circle cx="673.74" cy="95" r="1.85"/>
<circle cx="673.74" cy="97.53" r="1.85"/>
<circle cx="673.74" cy="100.05" r="1.85"/>
<circle cx="673.74" cy="102.57" r="1.85"/>
<circle cx="673.74" cy="105.1" r="1.85"/>
<text transform="translate(512.14 151) rotate(-30)" class="xt">FICA</text>
<text transform="translate(543.54 151) rotate(-30)" class="xt">iVAEar1_r</text>
<text transform="translate(574.94 151) rotate(-30)" class="xt">iVAEar1_s</text>
<text transform="translate(606.34 151) rotate(-30)" class="xt">iVAEr</text>
<text transform="translate(637.74 151) rotate(-30)" class="xt">iVAEs</text>
<text transform="translate(669.14 151) rotate(-30)" class="xt">STBSS</text>
<line x1="28.8" x2="223.48" y1="228.08" y2="228.08" stroke="#EBEBEB" stroke-width="0.85"/>
<line x1="28.8" x2="223.48" y1="256.43" y2="256.43" stroke="#EBEBEB" stroke-width="0.85"/>
<line x1="28.8" x2="223.48" y1="284.77" y2="284.77" stroke="#EBEBEB" stroke-width="0.85"/>
<line x1="28.8" x2="223.48" y1="313.12" y2="313.12" stroke="#EBEBEB" stroke-width="0.85"/>
<line x1="28.8" x2="223.48" y1="213.9" y2="213.9" stroke="#E6E6E6" stroke-width="1"/>
<line x1="28.8" x2="223.48" y1="242.25" y2="242.25" stroke="#E6E6E6" stroke-width="1"/>
<line x1="28.8" x2="223.48" y1="270.6" y2="270.6" stroke="#E6E6E6" stroke-width="1"/>
<line x1="28.8" x2="223.48" y1="298.95" y2="298.95" stroke="#E6E6E6" stroke-width="1"/>
<line x1="28.8" x2="223.48" y1="327.3" y2="327.3" stroke="#E6E6E6" stroke-width="1"/>
<line x1="47.64" x2="47.64" y1="207.9" y2="333.6" stroke="#E6E6E6" stroke-width="1"/>
<line x1="79.04" x2="79.04" y1="207.9" y2="333.6" stroke="#E6E6E6" stroke-width="1"/>
<line x1="110.44" x2="110.44" y1="207.9" y2="333.6" stroke="#E6E6E6" stroke-width="1"/>
<line x1="141.84" x2="141.84" y1="207.9" y2="333.6" stroke="#E6E6E6" stroke-width="1"/>
<line x1="173.24" x2="173.24" y1="207.9" y2="333.6" stroke="#E6E6E6" stroke-width="1"/>
<line x1="204.64" x2="204.64" y1="207.9" y2="333.6" stroke="#E6E6E6" stroke-width="1"/>
<text x="24.5" y="217.25" class="yt">1.0</text>
<text x="24.5" y="245.6" class="yt">0.9</text>
<text x="24.5" y="273.95" class="yt">0.8</text>
<text x="24.5" y="302.3" class="yt">0.7</text>
<text x="24.5" y="330.65" class="yt">0.6</text>
<text x="125.64" y="201.9" class="ti">Setting 4</text>
<line x1="39.44" x2="39.44" y1="213.7" y2="213.7" class="wh"/>
<line x1="39.44" x2="39.44" y1="214.7" y2="214.7" class="wh"/>
<rect x="35.99" y="213.7" width="6.9" height="1" fill="#EF7166" class="bx"/>
<line x1="35.99" x2="42.89" y1="214.2" y2="214.2" class="md"/>
<circle cx="39.44" cy="215.5" r="1.85"/>
<circle cx="39.44" cy="216.9" r="1.85"/>
<circle cx="39.44" cy="218.3" r="1.85"/>
<circle cx="39.44" cy="252.5" r="1.85"/>
<line x1="47.34" x2="47.34" y1="221.1" y2="227" class="wh"/>
<line x1="47.34" x2="47.34" y1="238.3" y2="254.4" class="wh"/>
<rect x="43.89" y="227" width="6.9" height="11.3" fill="#10B54A" class="bx"/>
<line x1="43.89" x2="50.79" y1="230.3" y2="230.3" class="md"/>
<circle cx="47.34" cy="254.4" r="1.85"/>
<circle cx="47.34" cy="255.63" r="1.85"/>
<circle cx="47.34" cy="256.86" r="1.85"/>
<circle cx="47.34" cy="258.09" r="1.85"/>
<circle cx="47.34" cy="259.32" r="1.85"/>
<circle cx="47.34" cy="260.56" r="1.85"/>
<circle cx="47.34" cy="261.79" r="1.85"/>
<circle cx="47.34" cy="263.02" r="1.85"/>
<circle cx="47.34" cy="264.25" r="1.85"/>
<circle cx="47.34" cy="265.48" r="1.85"/>
<circle cx="47.34" cy="266.71" r="1.85"/>
<circle cx="47.34" cy="267.94" r="1.85"/>
<circle cx="47.34" cy="269.18" r="1.85"/>
<circle cx="47.34" cy="270.41" r="1.85"/>
<circle cx="47.34" cy="271.64" r="1.85"/>
<circle cx="47.34" cy="272.87" r="1.85"/>
<circle cx="47.34" cy="274.1" r="1.85"/>
<circle cx="47.34" cy="281.2" r="1.85"/>
<circle cx="47.34" cy="285.6" r="1.85"/>
<circle cx="47.34" cy="286.9" r="1.85"/>
<circle cx="47.34" cy="293.3" r="1.85"/>
<circle cx="47.34" cy="309.9" r="1.85"/>
<line x1="55.24" x2="55.24" y1="227" y2="261.8" class="wh"/>
<line x1="55.24" x2="55.24" y1="294.6" y2="333.2" class="wh"/>
<rect x="51.79" y="261.8" width="6.9" height="32.8" fill="#5E8FDA" class="bx"/>
<line x1="51.79" x2="58.69" y1="278.5" y2="278.5" class="md"/>
<line x1="70.84" x2="70.84" y1="213.7" y2="213.7" class="wh"/>
<line x1="70.84" x2="70.84" y1="214.7" y2="214.7" class="wh"/>
<rect x="67.39" y="213.7" width="6.9" height="1" fill="#EF7166" class="bx"/>
<line x1="67.39" x2="74.29" y1="214.2" y2="214.2" class="md"/>
<circle cx="70.84" cy="215.5" r="1.85"/>
<circle cx="70.84" cy="216.5" r="1.85"/>
<circle cx="70.84" cy="217.5" r="1.85"/>
<circle cx="70.84" cy="224.6" r="1.85"/>
<circle cx="70.84" cy="231.5" r="1.85"/>
<circle cx="70.84" cy="232.72" r="1.85"/>
<circle cx="70.84" cy="233.95" r="1.85"/>
<circle cx="70.84" cy="235.18" r="1.85"/>
<circle cx="70.84" cy="236.4" r="1.85"/>
<line x1="78.74" x2="78.74" y1="218.3" y2="220" class="wh"/>
<line x1="78.74" x2="78.74" y1="224.6" y2="230.3" class="wh"/>
<rect x="75.29" y="220" width="6.9" height="4.6" fill="#10B54A" class="bx"/>
<line x1="75.29" x2="82.19" y1="222.1" y2="222.1" class="md"/>
<circle cx="78.74" cy="230.3" r="1.85"/>
<circle cx="78.74" cy="231.51" r="1.85"/>
<circle cx="78.74" cy="232.73" r="1.85"/>
<circle cx="78.74" cy="233.94" r="1.85"/>
<circle cx="78.74" cy="235.15" r="1.85"/>
<circle cx="78.74" cy="236.36" r="1.85"/>
<circle cx="78.74" cy="237.57" r="1.85"/>
<circle cx="78.74" cy="238.79" r="1.85"/>
<circle cx="78.74" cy="240" r="1.85"/>
<circle cx="78.74" cy="241.21" r="1.85"/>
<circle cx="78.74" cy="242.43" r="1.85"/>
<circle cx="78.74" cy="243.64" r="1.85"/>
<circle cx="78.74" cy="244.85" r="1.85"/>
<circle cx="78.74" cy="246.06" r="1.85"/>
<circle cx="78.74" cy="247.27" r="1.85"/>
<circle cx="78.74" cy="248.49" r="1.85"/>
<circle cx="78.74" cy="249.7" r="1.85"/>
<circle cx="78.74" cy="250.91" r="1.85"/>
<circle cx="78.74" cy="252.12" r="1.85"/>
<circle cx="78.74" cy="253.34" r="1.85"/>
<circle cx="78.74" cy="254.55" r="1.85"/>
<circle cx="78.74" cy="255.76" r="1.85"/>
<circle cx="78.74" cy="256.97" r="1.85"/>
<circle cx="78.74" cy="258.19" r="1.85"/>
<circle cx="78.74" cy="259.4" r="1.85"/>
<circle cx="78.74" cy="264.3" r="1.85"/>
<circle cx="78.74" cy="288.4" r="1.85"/>
<line x1="86.64" x2="86.64" y1="221.1" y2="230.3" class="wh"/>
<line x1="86.64" x2="86.64" y1="255.3" y2="292.2" class="wh"/>
<rect x="83.19" y="230.3" width="6.9" height="25" fill="#5E8FDA" class="bx"/>
<line x1="83.19" x2="90.09" y1="236.7" y2="236.7" class="md"/>
<circle cx="86.64" cy="292.2" r="1.85"/>
<circle cx="86.64" cy="293.35" r="1.85"/>
<circle cx="86.64" cy="294.5" r="1.85"/>
<circle cx="86.64" cy="295.65" r="1.85"/>
<circle cx="86.64" cy="296.8" r="1.85"/>
<circle cx="86.64" cy="297.95" r="1.85"/>
<circle cx="86.64" cy="299.1" r="1.85"/>
<circle cx="86.64" cy="300.25" r="1.85"/>
<circle cx="86.64" cy="301.4" r="1.85"/>
<circle cx="86.64" cy="302.55" r="1.85"/>
<circle cx="86.64" cy="303.7" r="1.85"/>
<circle cx="86.64" cy="313" r="1.85"/>
<circle cx="86.64" cy="325.8" r="1.85"/>
<line x1="102.24" x2="102.24" y1="213.7" y2="213.7" class="wh"/>
<line x1="102.24" x2="102.24" y1="214.7" y2="214.7" class="wh"/>
<rect x="98.79" y="213.7" width="6.9" height="1" fill="#EF7166" class="bx"/>
<line x1="98.79" x2="105.69" y1="214.2" y2="214.2" class="md"/>
<circle cx="102.24" cy="215.5" r="1.85"/>
<circle cx="102.24" cy="216.71" r="1.85"/>
<circle cx="102.24" cy="217.92" r="1.85"/>
<circle cx="102.24" cy="219.13" r="1.85"/>
<circle cx="102.24" cy="220.34" r="1.85"/>
<circle cx="102.24" cy="221.55" r="1.85"/>
<circle cx="102.24" cy="222.75" r="1.85"/>
<circle cx="102.24" cy="223.96" r="1.85"/>
<circle cx="102.24" cy="225.17" r="1.85"/>
<circle cx="102.24" cy="226.38" r="1.85"/>
<circle cx="102.24" cy="227.59" r="1.85"/>
<circle cx="102.24" cy="228.8" r="1.85"/>
<circle cx="102.24" cy="230.01" r="1.85"/>
<circle cx="102.24" cy="231.22" r="1.85"/>
<circle cx="102.24" cy="232.43" r="1.85"/>
<circle cx="102.24" cy="233.64" r="1.85"/>
<circle cx="102.24" cy="234.85" r="1.85"/>
<circle cx="102.24" cy="236.05" r="1.85"/>
<circle cx="102.24" cy="237.26" r="1.85"/>
<circle cx="102.24" cy="238.47" r="1.85"/>
<circle cx="102.24" cy="239.68" r="1.85"/>
<circle cx="102.24" cy="240.89" r="1.85"/>
<circle cx="102.24" cy="242.1" r="1.85"/>
<line x1="110.14" x2="110.14" y1="218.3" y2="221.3" class="wh"/>
<line x1="110.14" x2="110.14" y1="240" y2="267.6" class="wh"/>
<rect x="106.69" y="221.3" width="6.9" height="18.7" fill="#10B54A" class="bx"/>
<line x1="106.69" x2="113.59" y1="224.9" y2="224.9" class="md"/>
<circle cx="110.14" cy="267.6" r="1.85"/>
<circle cx="110.14" cy="268.83" r="1.85"/>
<circle cx="110.14" cy="270.05" r="1.85"/>
<circle cx="110.14" cy="271.28" r="1.85"/>
<circle cx="110.14" cy="272.5" r="1.85"/>
<circle cx="110.14" cy="273.73" r="1.85"/>
<circle cx="110.14" cy="274.95" r="1.85"/>
<circle cx="110.14" cy="276.18" r="1.85"/>
<circle cx="110.14" cy="277.4" r="1.85"/>
<circle cx="110.14" cy="278.62" r="1.85"/>
<circle cx="110.14" cy="279.85" r="1.85"/>
<circle cx="110.14" cy="281.07" r="1.85"/>
<circle cx="110.14" cy="282.3" r="1.85"/>
<circle cx="110.14" cy="283.52" r="1.85"/>
<circle cx="110.14" cy="284.75" r="1.85"/>
<circle cx="110.14" cy="285.97" r="1.85"/>
<circle cx="110.14" cy="287.2" r="1.85"/>
<circle cx="110.14" cy="291.3" r="1.85"/>
<circle cx="110.14" cy="299.9" r="1.85"/>
<line x1="118.04" x2="118.04" y1="221.9" y2="238.8" class="wh"/>
<line x1="118.04" x2="118.04" y1="268.1" y2="305.8" class="wh"/>
<rect x="114.59" y="238.8" width="6.9" height="29.3" fill="#5E8FDA" class="bx"/>
<line x1="114.59" x2="121.49" y1="251.2" y2="251.2" class="md"/>
<circle cx="118.04" cy="314.7" r="1.85"/>
<line x1="133.64" x2="133.64" y1="213.4" y2="213.4" class="wh"/>
<line x1="133.64" x2="133.64" y1="214.4" y2="214.4" class="wh"/>
<rect x="130.19" y="213.4" width="6.9" height="1" fill="#EF7166" class="bx"/>
<line x1="130.19" x2="137.09" y1="213.9" y2="213.9" class="md"/>
<circle cx="133.64" cy="215.5" r="1.85"/>
<circle cx="133.64" cy="216.67" r="1.85"/>
<circle cx="133.64" cy="217.83" r="1.85"/>
<circle cx="133.64" cy="219" r="1.85"/>
<circle cx="133.64" cy="219" r="1.85"/>
<circle cx="133.64" cy="221.38" r="1.85"/>
<circle cx="133.64" cy="223.75" r="1.85"/>
<circle cx="133.64" cy="226.12" r="1.85"/>
<circle cx="133.64" cy="228.5" r="1.85"/>
<circle cx="133.64" cy="230.88" r="1.85"/>
<circle cx="133.64" cy="233.25" r="1.85"/>
<circle cx="133.64" cy="235.62" r="1.85"/>
<circle cx="133.64" cy="238" r="1.85"/>
<line x1="141.54" x2="141.54" y1="217.5" y2="220.4" class="wh"/>
<line x1="141.54" x2="141.54" y1="231.9" y2="248.4" class="wh"/>
<rect x="138.09" y="220.4" width="6.9" height="11.5" fill="#10B54A" class="bx"/>
<line x1="138.09" x2="144.99" y1="221.6" y2="221.6" class="md"/>
<circle cx="141.54" cy="248.4" r="1.85"/>
<circle cx="141.54" cy="249.62" r="1.85"/>
<circle cx="141.54" cy="250.85" r="1.85"/>
<circle cx="141.54" cy="252.07" r="1.85"/>
<circle cx="141.54" cy="253.3" r="1.85"/>
<circle cx="141.54" cy="254.52" r="1.85"/>
<circle cx="141.54" cy="255.74" r="1.85"/>
<circle cx="141.54" cy="256.97" r="1.85"/>
<circle cx="141.54" cy="258.19" r="1.85"/>
<circle cx="141.54" cy="259.42" r="1.85"/>
<circle cx="141.54" cy="260.64" r="1.85"/>
<circle cx="141.54" cy="261.86" r="1.85"/>
<circle cx="141.54" cy="263.09" r="1.85"/>
<circle cx="141.54" cy="264.31" r="1.85"/>
<circle cx="141.54" cy="265.54" r="1.85"/>
<circle cx="141.54" cy="266.76" r="1.85"/>
<circle cx="141.54" cy="267.98" r="1.85"/>
<circle cx="141.54" cy="269.21" r="1.85"/>
<circle cx="141.54" cy="270.43" r="1.85"/>
<circle cx="141.54" cy="271.66" r="1.85"/>
<circle cx="141.54" cy="272.88" r="1.85"/>
<circle cx="141.54" cy="274.1" r="1.85"/>
<circle cx="141.54" cy="275.33" r="1.85"/>
<circle cx="141.54" cy="276.55" r="1.85"/>
<circle cx="141.54" cy="277.78" r="1.85"/>
<circle cx="141.54" cy="279" r="1.85"/>
<circle cx="141.54" cy="287.2" r="1.85"/>
<circle cx="141.54" cy="294.3" r="1.85"/>
<line x1="149.44" x2="149.44" y1="221.6" y2="233.1" class="wh"/>
<line x1="149.44" x2="149.44" y1="261.5" y2="305.3" class="wh"/>
<rect x="145.99" y="233.1" width="6.9" height="28.4" fill="#5E8FDA" class="bx"/>
<line x1="145.99" x2="152.89" y1="243.4" y2="243.4" class="md"/>
<circle cx="149.44" cy="307.3" r="1.85"/>
<circle cx="149.44" cy="310.6" r="1.85"/>
<line x1="165.04" x2="165.04" y1="214.2" y2="214.2" class="wh"/>
<line x1="165.04" x2="165.04" y1="218.3" y2="222.4" class="wh"/>
<rect x="161.59" y="214.2" width="6.9" height="4.1" fill="#EF7166" class="bx"/>
<line x1="161.59" x2="168.49" y1="214.5" y2="214.5" class="md"/>
<circle cx="165.04" cy="222.4" r="1.85"/>
<circle cx="165.04" cy="223.61" r="1.85"/>
<circle cx="165.04" cy="224.82" r="1.85"/>
<circle cx="165.04" cy="226.04" r="1.85"/>
<circle cx="165.04" cy="227.25" r="1.85"/>
<circle cx="165.04" cy="228.46" r="1.85"/>
<circle cx="165.04" cy="229.67" r="1.85"/>
<circle cx="165.04" cy="230.88" r="1.85"/>
<circle cx="165.04" cy="232.09" r="1.85"/>
<circle cx="165.04" cy="233.31" r="1.85"/>
<circle cx="165.04" cy="234.52" r="1.85"/>
<circle cx="165.04" cy="235.73" r="1.85"/>
<circle cx="165.04" cy="236.94" r="1.85"/>
<circle cx="165.04" cy="238.15" r="1.85"/>
<circle cx="165.04" cy="239.36" r="1.85"/>
<circle cx="165.04" cy="240.58" r="1.85"/>
<circle cx="165.04" cy="241.79" r="1.85"/>
<circle cx="165.04" cy="243" r="1.85"/>
<circle cx="165.04" cy="245" r="1.85"/>
<circle cx="165.04" cy="247.87" r="1.85"/>
<circle cx="165.04" cy="250.73" r="1.85"/>
<circle cx="165.04" cy="253.6" r="1.85"/>
<circle cx="165.04" cy="264.6" r="1.85"/>
<line x1="172.94" x2="172.94" y1="218.6" y2="225.4" class="wh"/>
<line x1="172.94" x2="172.94" y1="254.4" y2="296" class="wh"/>
<rect x="169.49" y="225.4" width="6.9" height="29" fill="#10B54A" class="bx"/>
<line x1="169.49" x2="176.39" y1="239.3" y2="239.3" class="md"/>
<circle cx="172.94" cy="297.8" r="1.85"/>
<circle cx="172.94" cy="300.9" r="1.85"/>
<circle cx="172.94" cy="303.8" r="1.85"/>
<circle cx="172.94" cy="310.5" r="1.85"/>
<line x1="180.84" x2="180.84" y1="222.1" y2="249.2" class="wh"/>
<line x1="180.84" x2="180.84" y1="280.2" y2="326.6" class="wh"/>
<rect x="177.39" y="249.2" width="6.9" height="31" fill="#5E8FDA" class="bx"/>
<line x1="177.39" x2="184.29" y1="265.1" y2="265.1" class="md"/>
<line x1="196.44" x2="196.44" y1="218.3" y2="243.3" class="wh"/>
<line x1="196.44" x2="196.44" y1="276.2" y2="320.1" class="wh"/>
<rect x="192.99" y="243.3" width="6.9" height="32.9" fill="#EF7166" class="bx"/>
<line x1="192.99" x2="199.89" y1="258.2" y2="258.2" class="md"/>
<line x1="204.34" x2="204.34" y1="227.8" y2="255.3" class="wh"/>
<line x1="204.34" x2="204.34" y1="287.2" y2="332.9" class="wh"/>
<rect x="200.89" y="255.3" width="6.9" height="31.9" fill="#10B54A" class="bx"/>
<line x1="200.89" x2="207.79" y1="270.5" y2="270.5" class="md"/>
<line x1="212.24" x2="212.24" y1="233.9" y2="267.6" class="wh"/>
<line x1="212.24" x2="212.24" y1="295.8" y2="331.6" class="wh"/>
<rect x="208.79" y="267.6" width="6.9" height="28.2" fill="#5E8FDA" class="bx"/>
<line x1="208.79" x2="215.69" y1="282.3" y2="282.3" class="md"/>
<text transform="translate(50.64 343.4) rotate(-30)" class="xt">FICA</text>
<text transform="translate(82.04 343.4) rotate(-30)" class="xt">iVAEar1_r</text>
<text transform="translate(113.44 343.4) rotate(-30)" class="xt">iVAEar1_s</text>
<text transform="translate(144.84 343.4) rotate(-30)" class="xt">iVAEr</text>
<text transform="translate(176.24 343.4) rotate(-30)" class="xt">iVAEs</text>
<text transform="translate(207.64 343.4) rotate(-30)" class="xt">STBSS</text>
<line x1="259.4" x2="454.08" y1="228.08" y2="228.08" stroke="#EBEBEB" stroke-width="0.85"/>
<line x1="259.4" x2="454.08" y1="256.43" y2="256.43" stroke="#EBEBEB" stroke-width="0.85"/>
<line x1="259.4" x2="454.08" y1="284.77" y2="284.77" stroke="#EBEBEB" stroke-width="0.85"/>
<line x1="259.4" x2="454.08" y1="313.12" y2="313.12" stroke="#EBEBEB" stroke-width="0.85"/>
<line x1="259.4" x2="454.08" y1="213.9" y2="213.9" stroke="#E6E6E6" stroke-width="1"/>
<line x1="259.4" x2="454.08" y1="242.25" y2="242.25" stroke="#E6E6E6" stroke-width="1"/>
<line x1="259.4" x2="454.08" y1="270.6" y2="270.6" stroke="#E6E6E6" stroke-width="1"/>
<line x1="259.4" x2="454.08" y1="298.95" y2="298.95" stroke="#E6E6E6" stroke-width="1"/>
<line x1="259.4" x2="454.08" y1="327.3" y2="327.3" stroke="#E6E6E6" stroke-width="1"/>
<line x1="278.24" x2="278.24" y1="207.9" y2="333.6" stroke="#E6E6E6" stroke-width="1"/>
<line x1="309.64" x2="309.64" y1="207.9" y2="333.6" stroke="#E6E6E6" stroke-width="1"/>
<line x1="341.04" x2="341.04" y1="207.9" y2="333.6" stroke="#E6E6E6" stroke-width="1"/>
<line x1="372.44" x2="372.44" y1="207.9" y2="333.6" stroke="#E6E6E6" stroke-width="1"/>
<line x1="403.84" x2="403.84" y1="207.9" y2="333.6" stroke="#E6E6E6" stroke-width="1"/>
<line x1="435.24" x2="435.24" y1="207.9" y2="333.6" stroke="#E6E6E6" stroke-width="1"/>
<text x="255.1" y="217.25" class="yt">1.0</text>
<text x="255.1" y="245.6" class="yt">0.9</text>
<text x="255.1" y="273.95" class="yt">0.8</text>
<text x="255.1" y="302.3" class="yt">0.7</text>
<text x="255.1" y="330.65" class="yt">0.6</text>
<text x="356.24" y="201.9" class="ti">Setting 5</text>
<line x1="270.04" x2="270.04" y1="212.8" y2="213.3" class="wh"/>
<line x1="270.04" x2="270.04" y1="214.1" y2="214.6" class="wh"/>
<rect x="266.59" y="213.3" width="6.9" height="0.8" fill="#EF7166" class="bx"/>
<line x1="266.59" x2="273.49" y1="213.7" y2="213.7" class="md"/>
<circle cx="270.04" cy="213.9" r="1.85"/>
<circle cx="270.04" cy="240.5" r="1.85"/>
<line x1="277.94" x2="277.94" y1="226" y2="226" class="wh"/>
<line x1="277.94" x2="277.94" y1="227" y2="227" class="wh"/>
<rect x="274.49" y="226" width="6.9" height="1" fill="#10B54A" class="bx"/>
<line x1="274.49" x2="281.39" y1="226.5" y2="226.5" class="md"/>
<circle cx="277.94" cy="227.3" r="1.85"/>
<circle cx="277.94" cy="228.49" r="1.85"/>
<circle cx="277.94" cy="229.67" r="1.85"/>
<circle cx="277.94" cy="230.86" r="1.85"/>
<circle cx="277.94" cy="232.04" r="1.85"/>
<circle cx="277.94" cy="233.23" r="1.85"/>
<circle cx="277.94" cy="234.41" r="1.85"/>
<circle cx="277.94" cy="235.6" r="1.85"/>
<circle cx="277.94" cy="250.7" r="1.85"/>
<line x1="285.84" x2="285.84" y1="233.1" y2="237.7" class="wh"/>
<line x1="285.84" x2="285.84" y1="256.1" y2="284.4" class="wh"/>
<rect x="282.39" y="237.7" width="6.9" height="18.4" fill="#5E8FDA" class="bx"/>
<line x1="282.39" x2="289.29" y1="240.5" y2="240.5" class="md"/>
<circle cx="285.84" cy="284.4" r="1.85"/>
<circle cx="285.84" cy="286.62" r="1.85"/>
<circle cx="285.84" cy="288.84" r="1.85"/>
<circle cx="285.84" cy="291.06" r="1.85"/>
<circle cx="285.84" cy="293.28" r="1.85"/>
<circle cx="285.84" cy="295.5" r="1.85"/>
<circle cx="285.84" cy="305" r="1.85"/>
<line x1="301.44" x2="301.44" y1="213.2" y2="213.2" class="wh"/>
<line x1="301.44" x2="301.44" y1="214.2" y2="214.2" class="wh"/>
<rect x="297.99" y="213.2" width="6.9" height="1" fill="#EF7166" class="bx"/>
<line x1="297.99" x2="304.89" y1="213.7" y2="213.7" class="md"/>
<circle cx="301.44" cy="213.9" r="1.85"/>
<circle cx="301.44" cy="224.9" r="1.85"/>
<circle cx="301.44" cy="238.3" r="1.85"/>
<line x1="309.34" x2="309.34" y1="219" y2="219" class="wh"/>
<line x1="309.34" x2="309.34" y1="220" y2="220" class="wh"/>
<rect x="305.89" y="219" width="6.9" height="1" fill="#10B54A" class="bx"/>
<line x1="305.89" x2="312.79" y1="219.5" y2="219.5" class="md"/>
<circle cx="309.34" cy="220.5" r="1.85"/>
<circle cx="309.34" cy="221.76" r="1.85"/>
<circle cx="309.34" cy="223.02" r="1.85"/>
<circle cx="309.34" cy="224.28" r="1.85"/>
<circle cx="309.34" cy="225.54" r="1.85"/>
<circle cx="309.34" cy="226.8" r="1.85"/>
<circle cx="309.34" cy="228.06" r="1.85"/>
<circle cx="309.34" cy="229.32" r="1.85"/>
<circle cx="309.34" cy="230.58" r="1.85"/>
<circle cx="309.34" cy="231.84" r="1.85"/>
<circle cx="309.34" cy="233.1" r="1.85"/>
<circle cx="309.34" cy="241.3" r="1.85"/>
<line x1="317.24" x2="317.24" y1="226" y2="226" class="wh"/>
<line x1="317.24" x2="317.24" y1="227" y2="227" class="wh"/>
<rect x="313.79" y="226" width="6.9" height="1" fill="#5E8FDA" class="bx"/>
<line x1="313.79" x2="320.69" y1="226.5" y2="226.5" class="md"/>
<circle cx="317.24" cy="227.3" r="1.85"/>
<circle cx="317.24" cy="228.46" r="1.85"/>
<circle cx="317.24" cy="229.62" r="1.85"/>
<circle cx="317.24" cy="230.78" r="1.85"/>
<circle cx="317.24" cy="231.94" r="1.85"/>
<circle cx="317.24" cy="233.1" r="1.85"/>
<circle cx="317.24" cy="238.8" r="1.85"/>
<circle cx="317.24" cy="239.9" r="1.85"/>
<circle cx="317.24" cy="241" r="1.85"/>
<circle cx="317.24" cy="242.1" r="1.85"/>
<circle cx="317.24" cy="248.4" r="1.85"/>
<circle cx="317.24" cy="249.77" r="1.85"/>
<circle cx="317.24" cy="251.13" r="1.85"/>
<circle cx="317.24" cy="252.5" r="1.85"/>
<line x1="332.84" x2="332.84" y1="213.2" y2="213.2" class="wh"/>
<line x1="332.84" x2="332.84" y1="214.2" y2="214.2" class="wh"/>
<rect x="329.39" y="213.2" width="6.9" height="1" fill="#EF7166" class="bx"/>
<line x1="329.39" x2="336.29" y1="213.7" y2="213.7" class="md"/>
<circle cx="332.84" cy="215" r="1.85"/>
<circle cx="332.84" cy="216.25" r="1.85"/>
<circle cx="332.84" cy="217.5" r="1.85"/>
<circle cx="332.84" cy="226.5" r="1.85"/>
<circle cx="332.84" cy="227.75" r="1.85"/>
<circle cx="332.84" cy="229" r="1.85"/>
<circle cx="332.84" cy="235.6" r="1.85"/>
<circle cx="332.84" cy="236.82" r="1.85"/>
<circle cx="332.84" cy="238.05" r="1.85"/>
<circle cx="332.84" cy="239.28" r="1.85"/>
<circle cx="332.84" cy="240.5" r="1.85"/>
<line x1="340.74" x2="340.74" y1="219.5" y2="219.5" class="wh"/>
<line x1="340.74" x2="340.74" y1="220.5" y2="220.5" class="wh"/>
<rect x="337.29" y="219.5" width="6.9" height="1" fill="#10B54A" class="bx"/>
<line x1="337.29" x2="344.19" y1="220" y2="220" class="md"/>
<circle cx="340.74" cy="220.8" r="1.85"/>
<circle cx="340.74" cy="222.03" r="1.85"/>
<circle cx="340.74" cy="223.27" r="1.85"/>
<circle cx="340.74" cy="224.5" r="1.85"/>
<circle cx="340.74" cy="225.73" r="1.85"/>
<circle cx="340.74" cy="226.97" r="1.85"/>
<circle cx="340.74" cy="228.2" r="1.85"/>
<circle cx="340.74" cy="229.43" r="1.85"/>
<circle cx="340.74" cy="230.67" r="1.85"/>
<circle cx="340.74" cy="231.9" r="1.85"/>
<circle cx="340.74" cy="233.13" r="1.85"/>
<circle cx="340.74" cy="234.37" r="1.85"/>
<circle cx="340.74" cy="235.6" r="1.85"/>
<circle cx="340.74" cy="236.83" r="1.85"/>
<circle cx="340.74" cy="238.07" r="1.85"/>
<circle cx="340.74" cy="239.3" r="1.85"/>
<circle cx="340.74" cy="240.53" r="1.85"/>
<circle cx="340.74" cy="241.77" r="1.85"/>
<circle cx="340.74" cy="243" r="1.85"/>
<circle cx="340.74" cy="246.2" r="1.85"/>
<line x1="348.64" x2="348.64" y1="226.8" y2="226.8" class="wh"/>
<line x1="348.64" x2="348.64" y1="227.8" y2="227.8" class="wh"/>
<rect x="345.19" y="226.8" width="6.9" height="1" fill="#5E8FDA" class="bx"/>
<line x1="345.19" x2="352.09" y1="227.3" y2="227.3" class="md"/>
<circle cx="348.64" cy="229" r="1.85"/>
<circle cx="348.64" cy="230.2" r="1.85"/>
<circle cx="348.64" cy="231.39" r="1.85"/>
<circle cx="348.64" cy="232.59" r="1.85"/>
<circle cx="348.64" cy="233.78" r="1.85"/>
<circle cx="348.64" cy="234.98" r="1.85"/>
<circle cx="348.64" cy="236.17" r="1.85"/>
<circle cx="348.64" cy="237.37" r="1.85"/>
<circle cx="348.64" cy="238.56" r="1.85"/>
<circle cx="348.64" cy="239.76" r="1.85"/>
<circle cx="348.64" cy="240.95" r="1.85"/>
<circle cx="348.64" cy="242.15" r="1.85"/>
<circle cx="348.64" cy="243.35" r="1.85"/>
<circle cx="348.64" cy="244.54" r="1.85"/>
<circle cx="348.64" cy="245.74" r="1.85"/>
<circle cx="348.64" cy="246.93" r="1.85"/>
<circle cx="348.64" cy="248.13" r="1.85"/>
<circle cx="348.64" cy="249.32" r="1.85"/>
<circle cx="348.64" cy="250.52" r="1.85"/>
<circle cx="348.64" cy="251.71" r="1.85"/>
<circle cx="348.64" cy="252.91" r="1.85"/>
<circle cx="348.64" cy="254.1" r="1.85"/>
<circle cx="348.64" cy="255.3" r="1.85"/>
<circle cx="348.64" cy="266.4" r="1.85"/>
<line x1="364.24" x2="364.24" y1="213.2" y2="213.2" class="wh"/>
<line x1="364.24" x2="364.24" y1="214.2" y2="214.2" class="wh"/>
<rect x="360.79" y="213.2" width="6.9" height="1" fill="#EF7166" class="bx"/>
<line x1="360.79" x2="367.69" y1="213.7" y2="213.7" class="md"/>
<circle cx="364.24" cy="215" r="1.85"/>
<circle cx="364.24" cy="216.24" r="1.85"/>
<circle cx="364.24" cy="217.47" r="1.85"/>
<circle cx="364.24" cy="218.71" r="1.85"/>
<circle cx="364.24" cy="219.94" r="1.85"/>
<circle cx="364.24" cy="221.18" r="1.85"/>
<circle cx="364.24" cy="222.41" r="1.85"/>
<circle cx="364.24" cy="223.65" r="1.85"/>
<circle cx="364.24" cy="224.89" r="1.85"/>
<circle cx="364.24" cy="226.12" r="1.85"/>
<circle cx="364.24" cy="227.36" r="1.85"/>
<circle cx="364.24" cy="228.59" r="1.85"/>
<circle cx="364.24" cy="229.83" r="1.85"/>
<circle cx="364.24" cy="231.06" r="1.85"/>
<circle cx="364.24" cy="232.3" r="1.85"/>
<circle cx="364.24" cy="239.7" r="1.85"/>
<line x1="372.14" x2="372.14" y1="219.8" y2="219.8" class="wh"/>
<line x1="372.14" x2="372.14" y1="220.8" y2="220.8" class="wh"/>
<rect x="368.69" y="219.8" width="6.9" height="1" fill="#10B54A" class="bx"/>
<line x1="368.69" x2="375.59" y1="220.3" y2="220.3" class="md"/>
<circle cx="372.14" cy="221.6" r="1.85"/>
<circle cx="372.14" cy="222.8" r="1.85"/>
<circle cx="372.14" cy="223.99" r="1.85"/>
<circle cx="372.14" cy="225.19" r="1.85"/>
<circle cx="372.14" cy="226.38" r="1.85"/>
<circle cx="372.14" cy="227.58" r="1.85"/>
<circle cx="372.14" cy="228.78" r="1.85"/>
<circle cx="372.14" cy="229.97" r="1.85"/>
<circle cx="372.14" cy="231.17" r="1.85"/>
<circle cx="372.14" cy="232.36" r="1.85"/>
<circle cx="372.14" cy="233.56" r="1.85"/>
<circle cx="372.14" cy="234.75" r="1.85"/>
<circle cx="372.14" cy="235.95" r="1.85"/>
<circle cx="372.14" cy="237.15" r="1.85"/>
<circle cx="372.14" cy="238.34" r="1.85"/>
<circle cx="372.14" cy="239.54" r="1.85"/>
<circle cx="372.14" cy="240.73" r="1.85"/>
<circle cx="372.14" cy="241.93" r="1.85"/>
<circle cx="372.14" cy="243.12" r="1.85"/>
<circle cx="372.14" cy="244.32" r="1.85"/>
<circle cx="372.14" cy="245.52" r="1.85"/>
<circle cx="372.14" cy="246.71" r="1.85"/>
<circle cx="372.14" cy="247.91" r="1.85"/>
<circle cx="372.14" cy="249.1" r="1.85"/>
<circle cx="372.14" cy="250.3" r="1.85"/>
<circle cx="372.14" cy="261.8" r="1.85"/>
<line x1="380.04" x2="380.04" y1="227.2" y2="227.2" class="wh"/>
<line x1="380.04" x2="380.04" y1="228.2" y2="228.2" class="wh"/>
<rect x="376.59" y="227.2" width="6.9" height="1" fill="#5E8FDA" class="bx"/>
<line x1="376.59" x2="383.49" y1="227.7" y2="227.7" class="md"/>
<circle cx="380.04" cy="229" r="1.85"/>
<circle cx="380.04" cy="230.21" r="1.85"/>
<circle cx="380.04" cy="231.43" r="1.85"/>
<circle cx="380.04" cy="232.64" r="1.85"/>
<circle cx="380.04" cy="233.85" r="1.85"/>
<circle cx="380.04" cy="235.07" r="1.85"/>
<circle cx="380.04" cy="236.28" r="1.85"/>
<circle cx="380.04" cy="237.49" r="1.85"/>
<circle cx="380.04" cy="238.7" r="1.85"/>
<circle cx="380.04" cy="239.92" r="1.85"/>
<circle cx="380.04" cy="241.13" r="1.85"/>
<circle cx="380.04" cy="242.34" r="1.85"/>
<circle cx="380.04" cy="243.56" r="1.85"/>
<circle cx="380.04" cy="244.77" r="1.85"/>
<circle cx="380.04" cy="245.98" r="1.85"/>
<circle cx="380.04" cy="247.2" r="1.85"/>
<circle cx="380.04" cy="248.41" r="1.85"/>
<circle cx="380.04" cy="249.62" r="1.85"/>
<circle cx="380.04" cy="250.83" r="1.85"/>
<circle cx="380.04" cy="252.05" r="1.85"/>
<circle cx="380.04" cy="253.26" r="1.85"/>
<circle cx="380.04" cy="254.47" r="1.85"/>
<circle cx="380.04" cy="255.69" r="1.85"/>
<circle cx="380.04" cy="256.9" r="1.85"/>
<circle cx="380.04" cy="269.2" r="1.85"/>
<circle cx="380.04" cy="270.3" r="1.85"/>
<circle cx="380.04" cy="271.4" r="1.85"/>
<circle cx="380.04" cy="272.5" r="1.85"/>
<circle cx="380.04" cy="289.4" r="1.85"/>
<line x1="395.64" x2="395.64" y1="213.2" y2="213.2" class="wh"/>
<line x1="395.64" x2="395.64" y1="214.2" y2="214.2" class="wh"/>
<rect x="392.19" y="213.2" width="6.9" height="1" fill="#EF7166" class="bx"/>
<line x1="392.19" x2="399.09" y1="213.7" y2="213.7" class="md"/>
<circle cx="395.64" cy="215" r="1.85"/>
<circle cx="395.64" cy="216.22" r="1.85"/>
<circle cx="395.64" cy="217.43" r="1.85"/>
<circle cx="395.64" cy="218.65" r="1.85"/>
<circle cx="395.64" cy="219.87" r="1.85"/>
<circle cx="395.64" cy="221.09" r="1.85"/>
<circle cx="395.64" cy="222.3" r="1.85"/>
<circle cx="395.64" cy="223.52" r="1.85"/>
<circle cx="395.64" cy="224.74" r="1.85"/>
<circle cx="395.64" cy="225.96" r="1.85"/>
<circle cx="395.64" cy="227.17" r="1.85"/>
<circle cx="395.64" cy="228.39" r="1.85"/>
<circle cx="395.64" cy="229.61" r="1.85"/>
<circle cx="395.64" cy="230.83" r="1.85"/>
<circle cx="395.64" cy="232.04" r="1.85"/>
<circle cx="395.64" cy="233.26" r="1.85"/>
<circle cx="395.64" cy="234.48" r="1.85"/>
<circle cx="395.64" cy="235.7" r="1.85"/>
<circle cx="395.64" cy="236.91" r="1.85"/>
<circle cx="395.64" cy="238.13" r="1.85"/>
<circle cx="395.64" cy="239.35" r="1.85"/>
<circle cx="395.64" cy="240.57" r="1.85"/>
<circle cx="395.64" cy="241.78" r="1.85"/>
<circle cx="395.64" cy="243" r="1.85"/>
<circle cx="395.64" cy="255.3" r="1.85"/>
<line x1="403.54" x2="403.54" y1="220.4" y2="220.6" class="wh"/>
<line x1="403.54" x2="403.54" y1="223.9" y2="226.5" class="wh"/>
<rect x="400.09" y="220.6" width="6.9" height="3.3" fill="#10B54A" class="bx"/>
<line x1="400.09" x2="406.99" y1="220.9" y2="220.9" class="md"/>
<circle cx="403.54" cy="226.5" r="1.85"/>
<circle cx="403.54" cy="227.71" r="1.85"/>
<circle cx="403.54" cy="228.93" r="1.85"/>
<circle cx="403.54" cy="230.14" r="1.85"/>
<circle cx="403.54" cy="231.35" r="1.85"/>
<circle cx="403.54" cy="232.57" r="1.85"/>
<circle cx="403.54" cy="233.78" r="1.85"/>
<circle cx="403.54" cy="234.99" r="1.85"/>
<circle cx="403.54" cy="236.2" r="1.85"/>
<circle cx="403.54" cy="237.42" r="1.85"/>
<circle cx="403.54" cy="238.63" r="1.85"/>
<circle cx="403.54" cy="239.84" r="1.85"/>
<circle cx="403.54" cy="241.06" r="1.85"/>
<circle cx="403.54" cy="242.27" r="1.85"/>
<circle cx="403.54" cy="243.48" r="1.85"/>
<circle cx="403.54" cy="244.7" r="1.85"/>
<circle cx="403.54" cy="245.91" r="1.85"/>
<circle cx="403.54" cy="247.12" r="1.85"/>
<circle cx="403.54" cy="248.33" r="1.85"/>
<circle cx="403.54" cy="249.55" r="1.85"/>
<circle cx="403.54" cy="250.76" r="1.85"/>
<circle cx="403.54" cy="251.97" r="1.85"/>
<circle cx="403.54" cy="253.19" r="1.85"/>
<circle cx="403.54" cy="254.4" r="1.85"/>
<circle cx="403.54" cy="267.6" r="1.85"/>
<line x1="411.44" x2="411.44" y1="226" y2="228.7" class="wh"/>
<line x1="411.44" x2="411.44" y1="245.4" y2="271.6" class="wh"/>
<rect x="407.99" y="228.7" width="6.9" height="16.7" fill="#5E8FDA" class="bx"/>
<line x1="407.99" x2="414.89" y1="232" y2="232" class="md"/>
<circle cx="411.44" cy="271.6" r="1.85"/>
<circle cx="411.44" cy="273.52" r="1.85"/>
<circle cx="411.44" cy="275.43" r="1.85"/>
<circle cx="411.44" cy="277.35" r="1.85"/>
<circle cx="411.44" cy="279.27" r="1.85"/>
<circle cx="411.44" cy="281.18" r="1.85"/>
<circle cx="411.44" cy="283.1" r="1.85"/>
<circle cx="411.44" cy="291.3" r="1.85"/>
<circle cx="411.44" cy="299.6" r="1.85"/>
<line x1="427.04" x2="427.04" y1="215" y2="218.8" class="wh"/>
<line x1="427.04" x2="427.04" y1="232.6" y2="252.8" class="wh"/>
<rect x="423.59" y="218.8" width="6.9" height="13.8" fill="#EF7166" class="bx"/>
<line x1="423.59" x2="430.49" y1="224.9" y2="224.9" class="md"/>
<circle cx="427.04" cy="252.8" r="1.85"/>
<circle cx="427.04" cy="253.99" r="1.85"/>
<circle cx="427.04" cy="255.18" r="1.85"/>
<circle cx="427.04" cy="256.37" r="1.85"/>
<circle cx="427.04" cy="257.56" r="1.85"/>
<circle cx="427.04" cy="258.75" r="1.85"/>
<circle cx="427.04" cy="259.94" r="1.85"/>
<circle cx="427.04" cy="261.13" r="1.85"/>
<circle cx="427.04" cy="262.32" r="1.85"/>
<circle cx="427.04" cy="263.51" r="1.85"/>
<circle cx="427.04" cy="264.7" r="1.85"/>
<circle cx="427.04" cy="265.89" r="1.85"/>
<circle cx="427.04" cy="267.08" r="1.85"/>
<circle cx="427.04" cy="268.27" r="1.85"/>
<circle cx="427.04" cy="269.46" r="1.85"/>
<circle cx="427.04" cy="270.65" r="1.85"/>
<circle cx="427.04" cy="271.84" r="1.85"/>
<circle cx="427.04" cy="273.03" r="1.85"/>
<circle cx="427.04" cy="274.22" r="1.85"/>
<circle cx="427.04" cy="275.41" r="1.85"/>
<circle cx="427.04" cy="276.6" r="1.85"/>
<circle cx="427.04" cy="286.4" r="1.85"/>
<circle cx="427.04" cy="294.6" r="1.85"/>
<line x1="434.94" x2="434.94" y1="227" y2="235.9" class="wh"/>
<line x1="434.94" x2="434.94" y1="254.4" y2="282.3" class="wh"/>
<rect x="431.49" y="235.9" width="6.9" height="18.5" fill="#10B54A" class="bx"/>
<line x1="431.49" x2="438.39" y1="243.4" y2="243.4" class="md"/>
<circle cx="434.94" cy="282.3" r="1.85"/>
<circle cx="434.94" cy="284.63" r="1.85"/>
<circle cx="434.94" cy="286.97" r="1.85"/>
<circle cx="434.94" cy="289.3" r="1.85"/>
<circle cx="434.94" cy="291.63" r="1.85"/>
<circle cx="434.94" cy="293.97" r="1.85"/>
<circle cx="434.94" cy="296.3" r="1.85"/>
<line x1="442.84" x2="442.84" y1="237.2" y2="248.4" class="wh"/>
<line x1="442.84" x2="442.84" y1="270" y2="301.2" class="wh"/>
<rect x="439.39" y="248.4" width="6.9" height="21.6" fill="#5E8FDA" class="bx"/>
<line x1="439.39" x2="446.29" y1="258.9" y2="258.9" class="md"/>
<circle cx="442.84" cy="301.2" r="1.85"/>
<circle cx="442.84" cy="303.25" r="1.85"/>
<circle cx="442.84" cy="305.3" r="1.85"/>
<circle cx="442.84" cy="307.35" r="1.85"/>
<circle cx="442.84" cy="309.4" r="1.85"/>
<circle cx="442.84" cy="332.4" r="1.85"/>
<text transform="translate(281.24 343.4) rotate(-30)" class="xt">FICA</text>
<text transform="translate(312.64 343.4) rotate(-30)" class="xt">iVAEar1_r</text>
<text transform="translate(344.04 343.4) rotate(-30)" class="xt">iVAEar1_s</text>
<text transform="translate(375.44 343.4) rotate(-30)" class="xt">iVAEr</text>
<text transform="translate(406.84 343.4) rotate(-30)" class="xt">iVAEs</text>
<text transform="translate(438.24 343.4) rotate(-30)" class="xt">STBSS</text>
<line x1="490.3" x2="684.98" y1="228.08" y2="228.08" stroke="#EBEBEB" stroke-width="0.85"/>
<line x1="490.3" x2="684.98" y1="256.43" y2="256.43" stroke="#EBEBEB" stroke-width="0.85"/>
<line x1="490.3" x2="684.98" y1="284.77" y2="284.77" stroke="#EBEBEB" stroke-width="0.85"/>
<line x1="490.3" x2="684.98" y1="313.12" y2="313.12" stroke="#EBEBEB" stroke-width="0.85"/>
<line x1="490.3" x2="684.98" y1="213.9" y2="213.9" stroke="#E6E6E6" stroke-width="1"/>
<line x1="490.3" x2="684.98" y1="242.25" y2="242.25" stroke="#E6E6E6" stroke-width="1"/>
<line x1="490.3" x2="684.98" y1="270.6" y2="270.6" stroke="#E6E6E6" stroke-width="1"/>
<line x1="490.3" x2="684.98" y1="298.95" y2="298.95" stroke="#E6E6E6" stroke-width="1"/>
<line x1="490.3" x2="684.98" y1="327.3" y2="327.3" stroke="#E6E6E6" stroke-width="1"/>
<line x1="509.14" x2="509.14" y1="207.9" y2="333.6" stroke="#E6E6E6" stroke-width="1"/>
<line x1="540.54" x2="540.54" y1="207.9" y2="333.6" stroke="#E6E6E6" stroke-width="1"/>
<line x1="571.94" x2="571.94" y1="207.9" y2="333.6" stroke="#E6E6E6" stroke-width="1"/>
<line x1="603.34" x2="603.34" y1="207.9" y2="333.6" stroke="#E6E6E6" stroke-width="1"/>
<line x1="634.74" x2="634.74" y1="207.9" y2="333.6" stroke="#E6E6E6" stroke-width="1"/>
<line x1="666.14" x2="666.14" y1="207.9" y2="333.6" stroke="#E6E6E6" stroke-width="1"/>
<text x="486" y="217.25" class="yt">1.0</text>
<text x="486" y="245.6" class="yt">0.9</text>
<text x="486" y="273.95" class="yt">0.8</text>
<text x="486" y="302.3" class="yt">0.7</text>
<text x="486" y="330.65" class="yt">0.6</text>
<text x="587.14" y="201.9" class="ti">Setting 6</text>
<line x1="500.94" x2="500.94" y1="214.2" y2="215.4" class="wh"/>
<line x1="500.94" x2="500.94" y1="219.5" y2="225.4" class="wh"/>
<rect x="497.49" y="215.4" width="6.9" height="4.1" fill="#EF7166" class="bx"/>
<line x1="497.49" x2="504.39" y1="215.8" y2="215.8" class="md"/>
<circle cx="500.94" cy="225.4" r="1.85"/>
<circle cx="500.94" cy="226.6" r="1.85"/>
<circle cx="500.94" cy="227.8" r="1.85"/>
<circle cx="500.94" cy="229" r="1.85"/>
<circle cx="500.94" cy="230.2" r="1.85"/>
<circle cx="500.94" cy="231.4" r="1.85"/>
<circle cx="500.94" cy="232.6" r="1.85"/>
<circle cx="500.94" cy="233.8" r="1.85"/>
<circle cx="500.94" cy="235" r="1.85"/>
<circle cx="500.94" cy="236.2" r="1.85"/>
<circle cx="500.94" cy="237.4" r="1.85"/>
<circle cx="500.94" cy="238.6" r="1.85"/>
<circle cx="500.94" cy="239.8" r="1.85"/>
<circle cx="500.94" cy="241" r="1.85"/>
<circle cx="500.94" cy="242.2" r="1.85"/>
<circle cx="500.94" cy="243.4" r="1.85"/>
<circle cx="500.94" cy="244.6" r="1.85"/>
<circle cx="500.94" cy="245.8" r="1.85"/>
<circle cx="500.94" cy="247" r="1.85"/>
<circle cx="500.94" cy="252.3" r="1.85"/>
<circle cx="500.94" cy="254.9" r="1.85"/>
<circle cx="500.94" cy="258.2" r="1.85"/>
<circle cx="500.94" cy="264.6" r="1.85"/>
<line x1="508.84" x2="508.84" y1="221.1" y2="229.5" class="wh"/>
<line x1="508.84" x2="508.84" y1="248.4" y2="275.7" class="wh"/>
<rect x="505.39" y="229.5" width="6.9" height="18.9" fill="#10B54A" class="bx"/>
<line x1="505.39" x2="512.29" y1="236.4" y2="236.4" class="md"/>
<circle cx="508.84" cy="275.7" r="1.85"/>
<circle cx="508.84" cy="277.99" r="1.85"/>
<circle cx="508.84" cy="280.28" r="1.85"/>
<circle cx="508.84" cy="282.57" r="1.85"/>
<circle cx="508.84" cy="284.86" r="1.85"/>
<circle cx="508.84" cy="287.14" r="1.85"/>
<circle cx="508.84" cy="289.43" r="1.85"/>
<circle cx="508.84" cy="291.72" r="1.85"/>
<circle cx="508.84" cy="294.01" r="1.85"/>
<circle cx="508.84" cy="296.3" r="1.85"/>
<line x1="516.74" x2="516.74" y1="232.3" y2="266.4" class="wh"/>
<line x1="516.74" x2="516.74" y1="298.2" y2="333.2" class="wh"/>
<rect x="513.29" y="266.4" width="6.9" height="31.8" fill="#5E8FDA" class="bx"/>
<line x1="513.29" x2="520.19" y1="283.1" y2="283.1" class="md"/>
<line x1="532.34" x2="532.34" y1="213.2" y2="213.2" class="wh"/>
<line x1="532.34" x2="532.34" y1="214.2" y2="214.2" class="wh"/>
<rect x="528.89" y="213.2" width="6.9" height="1" fill="#EF7166" class="bx"/>
<line x1="528.89" x2="535.79" y1="213.7" y2="213.7" class="md"/>
<circle cx="532.34" cy="215.2" r="1.85"/>
<circle cx="532.34" cy="220.8" r="1.85"/>
<circle cx="532.34" cy="230.3" r="1.85"/>
<line x1="540.24" x2="540.24" y1="218.6" y2="218.6" class="wh"/>
<line x1="540.24" x2="540.24" y1="219.6" y2="219.6" class="wh"/>
<rect x="536.79" y="218.6" width="6.9" height="1" fill="#10B54A" class="bx"/>
<line x1="536.79" x2="543.69" y1="219.1" y2="219.1" class="md"/>
<circle cx="540.24" cy="220" r="1.85"/>
<circle cx="540.24" cy="221.19" r="1.85"/>
<circle cx="540.24" cy="222.38" r="1.85"/>
<circle cx="540.24" cy="223.57" r="1.85"/>
<circle cx="540.24" cy="224.76" r="1.85"/>
<circle cx="540.24" cy="225.95" r="1.85"/>
<circle cx="540.24" cy="227.14" r="1.85"/>
<circle cx="540.24" cy="228.33" r="1.85"/>
<circle cx="540.24" cy="229.52" r="1.85"/>
<circle cx="540.24" cy="230.71" r="1.85"/>
<circle cx="540.24" cy="231.9" r="1.85"/>
<circle cx="540.24" cy="233.1" r="1.85"/>
<circle cx="540.24" cy="234.29" r="1.85"/>
<circle cx="540.24" cy="235.48" r="1.85"/>
<circle cx="540.24" cy="236.67" r="1.85"/>
<circle cx="540.24" cy="237.86" r="1.85"/>
<circle cx="540.24" cy="239.05" r="1.85"/>
<circle cx="540.24" cy="240.24" r="1.85"/>
<circle cx="540.24" cy="241.43" r="1.85"/>
<circle cx="540.24" cy="242.62" r="1.85"/>
<circle cx="540.24" cy="243.81" r="1.85"/>
<circle cx="540.24" cy="245" r="1.85"/>
<circle cx="540.24" cy="245" r="1.85"/>
<circle cx="540.24" cy="247.15" r="1.85"/>
<circle cx="540.24" cy="249.3" r="1.85"/>
<circle cx="540.24" cy="251.45" r="1.85"/>
<circle cx="540.24" cy="253.6" r="1.85"/>
<circle cx="540.24" cy="272" r="1.85"/>
<line x1="548.14" x2="548.14" y1="222.4" y2="225.4" class="wh"/>
<line x1="548.14" x2="548.14" y1="231" y2="238.8" class="wh"/>
<rect x="544.69" y="225.4" width="6.9" height="5.6" fill="#5E8FDA" class="bx"/>
<line x1="544.69" x2="551.59" y1="227" y2="227" class="md"/>
<circle cx="548.14" cy="238.8" r="1.85"/>
<circle cx="548.14" cy="239.99" r="1.85"/>
<circle cx="548.14" cy="241.18" r="1.85"/>
<circle cx="548.14" cy="242.37" r="1.85"/>
<circle cx="548.14" cy="243.56" r="1.85"/>
<circle cx="548.14" cy="244.74" r="1.85"/>
<circle cx="548.14" cy="245.93" r="1.85"/>
<circle cx="548.14" cy="247.12" r="1.85"/>
<circle cx="548.14" cy="248.31" r="1.85"/>
<circle cx="548.14" cy="249.5" r="1.85"/>
<circle cx="548.14" cy="250.69" r="1.85"/>
<circle cx="548.14" cy="251.88" r="1.85"/>
<circle cx="548.14" cy="253.07" r="1.85"/>
<circle cx="548.14" cy="254.26" r="1.85"/>
<circle cx="548.14" cy="255.44" r="1.85"/>
<circle cx="548.14" cy="256.63" r="1.85"/>
<circle cx="548.14" cy="257.82" r="1.85"/>
<circle cx="548.14" cy="259.01" r="1.85"/>
<circle cx="548.14" cy="260.2" r="1.85"/>
<circle cx="548.14" cy="261.39" r="1.85"/>
<circle cx="548.14" cy="262.58" r="1.85"/>
<circle cx="548.14" cy="263.77" r="1.85"/>
<circle cx="548.14" cy="264.96" r="1.85"/>
<circle cx="548.14" cy="266.14" r="1.85"/>
<circle cx="548.14" cy="267.33" r="1.85"/>
<circle cx="548.14" cy="268.52" r="1.85"/>
<circle cx="548.14" cy="269.71" r="1.85"/>
<circle cx="548.14" cy="270.9" r="1.85"/>
<circle cx="548.14" cy="274.6" r="1.85"/>
<circle cx="548.14" cy="284.4" r="1.85"/>
<line x1="563.74" x2="563.74" y1="213.2" y2="213.2" class="wh"/>
<line x1="563.74" x2="563.74" y1="214.2" y2="214.2" class="wh"/>
<rect x="560.29" y="213.2" width="6.9" height="1" fill="#EF7166" class="bx"/>
<line x1="560.29" x2="567.19" y1="213.7" y2="213.7" class="md"/>
<circle cx="563.74" cy="215" r="1.85"/>
<circle cx="563.74" cy="216.18" r="1.85"/>
<circle cx="563.74" cy="217.36" r="1.85"/>
<circle cx="563.74" cy="218.55" r="1.85"/>
<circle cx="563.74" cy="219.73" r="1.85"/>
<circle cx="563.74" cy="220.91" r="1.85"/>
<circle cx="563.74" cy="222.09" r="1.85"/>
<circle cx="563.74" cy="223.27" r="1.85"/>
<circle cx="563.74" cy="224.45" r="1.85"/>
<circle cx="563.74" cy="225.64" r="1.85"/>
<circle cx="563.74" cy="226.82" r="1.85"/>
<circle cx="563.74" cy="228" r="1.85"/>
<circle cx="563.74" cy="228" r="1.85"/>
<circle cx="563.74" cy="230.16" r="1.85"/>
<circle cx="563.74" cy="232.32" r="1.85"/>
<circle cx="563.74" cy="234.48" r="1.85"/>
<circle cx="563.74" cy="236.64" r="1.85"/>
<circle cx="563.74" cy="238.8" r="1.85"/>
<line x1="571.64" x2="571.64" y1="217.8" y2="219.8" class="wh"/>
<line x1="571.64" x2="571.64" y1="222.9" y2="227" class="wh"/>
<rect x="568.19" y="219.8" width="6.9" height="3.1" fill="#10B54A" class="bx"/>
<line x1="568.19" x2="575.09" y1="220.3" y2="220.3" class="md"/>
<circle cx="571.64" cy="227" r="1.85"/>
<circle cx="571.64" cy="228.18" r="1.85"/>
<circle cx="571.64" cy="229.35" r="1.85"/>
<circle cx="571.64" cy="230.53" r="1.85"/>
<circle cx="571.64" cy="231.71" r="1.85"/>
<circle cx="571.64" cy="232.88" r="1.85"/>
<circle cx="571.64" cy="234.06" r="1.85"/>
<circle cx="571.64" cy="235.24" r="1.85"/>
<circle cx="571.64" cy="236.41" r="1.85"/>
<circle cx="571.64" cy="237.59" r="1.85"/>
<circle cx="571.64" cy="238.76" r="1.85"/>
<circle cx="571.64" cy="239.94" r="1.85"/>
<circle cx="571.64" cy="241.12" r="1.85"/>
<circle cx="571.64" cy="242.29" r="1.85"/>
<circle cx="571.64" cy="243.47" r="1.85"/>
<circle cx="571.64" cy="244.65" r="1.85"/>
<circle cx="571.64" cy="245.82" r="1.85"/>
<circle cx="571.64" cy="247" r="1.85"/>
<circle cx="571.64" cy="247" r="1.85"/>
<circle cx="571.64" cy="249.07" r="1.85"/>
<circle cx="571.64" cy="251.15" r="1.85"/>
<circle cx="571.64" cy="253.23" r="1.85"/>
<circle cx="571.64" cy="255.3" r="1.85"/>
<circle cx="571.64" cy="261" r="1.85"/>
<circle cx="571.64" cy="272.5" r="1.85"/>
<circle cx="571.64" cy="273.57" r="1.85"/>
<circle cx="571.64" cy="274.63" r="1.85"/>
<circle cx="571.64" cy="275.7" r="1.85"/>
<line x1="579.54" x2="579.54" y1="222.1" y2="227.3" class="wh"/>
<line x1="579.54" x2="579.54" y1="243.4" y2="268.4" class="wh"/>
<rect x="576.09" y="227.3" width="6.9" height="16.1" fill="#5E8FDA" class="bx"/>
<line x1="576.09" x2="582.99" y1="231" y2="231" class="md"/>
<circle cx="579.54" cy="268.4" r="1.85"/>
<circle cx="579.54" cy="270.03" r="1.85"/>
<circle cx="579.54" cy="271.67" r="1.85"/>
<circle cx="579.54" cy="273.3" r="1.85"/>
<circle cx="579.54" cy="274.93" r="1.85"/>
<circle cx="579.54" cy="276.57" r="1.85"/>
<circle cx="579.54" cy="278.2" r="1.85"/>
<circle cx="579.54" cy="279.83" r="1.85"/>
<circle cx="579.54" cy="281.47" r="1.85"/>
<circle cx="579.54" cy="283.1" r="1.85"/>
<circle cx="579.54" cy="289.7" r="1.85"/>
<circle cx="579.54" cy="300.4" r="1.85"/>
<line x1="595.14" x2="595.14" y1="213.2" y2="213.2" class="wh"/>
<line x1="595.14" x2="595.14" y1="214.2" y2="214.2" class="wh"/>
<rect x="591.69" y="213.2" width="6.9" height="1" fill="#EF7166" class="bx"/>
<line x1="591.69" x2="598.59" y1="213.7" y2="213.7" class="md"/>
<circle cx="595.14" cy="215.9" r="1.85"/>
<circle cx="595.14" cy="217.1" r="1.85"/>
<circle cx="595.14" cy="218.3" r="1.85"/>
<circle cx="595.14" cy="222.4" r="1.85"/>
<circle cx="595.14" cy="226.5" r="1.85"/>
<circle cx="595.14" cy="230.4" r="1.85"/>
<circle cx="595.14" cy="233.9" r="1.85"/>
<circle cx="595.14" cy="241.3" r="1.85"/>
<line x1="603.04" x2="603.04" y1="218.3" y2="220" class="wh"/>
<line x1="603.04" x2="603.04" y1="224.6" y2="230.3" class="wh"/>
<rect x="599.59" y="220" width="6.9" height="4.6" fill="#10B54A" class="bx"/>
<line x1="599.59" x2="606.49" y1="220.4" y2="220.4" class="md"/>
<circle cx="603.04" cy="230.3" r="1.85"/>
<circle cx="603.04" cy="232.31" r="1.85"/>
<circle cx="603.04" cy="234.32" r="1.85"/>
<circle cx="603.04" cy="236.33" r="1.85"/>
<circle cx="603.04" cy="238.34" r="1.85"/>
<circle cx="603.04" cy="240.35" r="1.85"/>
<circle cx="603.04" cy="242.36" r="1.85"/>
<circle cx="603.04" cy="244.37" r="1.85"/>
<circle cx="603.04" cy="246.38" r="1.85"/>
<circle cx="603.04" cy="248.39" r="1.85"/>
<circle cx="603.04" cy="250.4" r="1.85"/>
<circle cx="603.04" cy="252.4" r="1.85"/>
<circle cx="603.04" cy="254.41" r="1.85"/>
<circle cx="603.04" cy="256.42" r="1.85"/>
<circle cx="603.04" cy="258.43" r="1.85"/>
<circle cx="603.04" cy="260.44" r="1.85"/>
<circle cx="603.04" cy="262.45" r="1.85"/>
<circle cx="603.04" cy="264.46" r="1.85"/>
<circle cx="603.04" cy="266.47" r="1.85"/>
<circle cx="603.04" cy="268.48" r="1.85"/>
<circle cx="603.04" cy="270.49" r="1.85"/>
<circle cx="603.04" cy="272.5" r="1.85"/>
<circle cx="603.04" cy="279.9" r="1.85"/>
<line x1="610.94" x2="610.94" y1="222.4" y2="230.3" class="wh"/>
<line x1="610.94" x2="610.94" y1="252.3" y2="285.6" class="wh"/>
<rect x="607.49" y="230.3" width="6.9" height="22" fill="#5E8FDA" class="bx"/>
<line x1="607.49" x2="614.39" y1="237.7" y2="237.7" class="md"/>
<circle cx="610.94" cy="289.7" r="1.85"/>
<circle cx="610.94" cy="291.89" r="1.85"/>
<circle cx="610.94" cy="294.08" r="1.85"/>
<circle cx="610.94" cy="296.27" r="1.85"/>
<circle cx="610.94" cy="298.46" r="1.85"/>
<circle cx="610.94" cy="300.64" r="1.85"/>
<circle cx="610.94" cy="302.83" r="1.85"/>
<circle cx="610.94" cy="305.02" r="1.85"/>
<circle cx="610.94" cy="307.21" r="1.85"/>
<circle cx="610.94" cy="309.4" r="1.85"/>
<circle cx="610.94" cy="318" r="1.85"/>
<line x1="626.54" x2="626.54" y1="213.7" y2="213.7" class="wh"/>
<line x1="626.54" x2="626.54" y1="214.7" y2="214.7" class="wh"/>
<rect x="623.09" y="213.7" width="6.9" height="1" fill="#EF7166" class="bx"/>
<line x1="623.09" x2="629.99" y1="214.2" y2="214.2" class="md"/>
<circle cx="626.54" cy="215.5" r="1.85"/>
<circle cx="626.54" cy="216.68" r="1.85"/>
<circle cx="626.54" cy="217.86" r="1.85"/>
<circle cx="626.54" cy="219.04" r="1.85"/>
<circle cx="626.54" cy="220.22" r="1.85"/>
<circle cx="626.54" cy="221.4" r="1.85"/>
<circle cx="626.54" cy="222.58" r="1.85"/>
<circle cx="626.54" cy="223.77" r="1.85"/>
<circle cx="626.54" cy="224.95" r="1.85"/>
<circle cx="626.54" cy="226.13" r="1.85"/>
<circle cx="626.54" cy="227.31" r="1.85"/>
<circle cx="626.54" cy="228.49" r="1.85"/>
<circle cx="626.54" cy="229.67" r="1.85"/>
<circle cx="626.54" cy="230.85" r="1.85"/>
<circle cx="626.54" cy="232.03" r="1.85"/>
<circle cx="626.54" cy="233.21" r="1.85"/>
<circle cx="626.54" cy="234.39" r="1.85"/>
<circle cx="626.54" cy="235.57" r="1.85"/>
<circle cx="626.54" cy="236.75" r="1.85"/>
<circle cx="626.54" cy="237.93" r="1.85"/>
<circle cx="626.54" cy="239.12" r="1.85"/>
<circle cx="626.54" cy="240.3" r="1.85"/>
<circle cx="626.54" cy="241.48" r="1.85"/>
<circle cx="626.54" cy="242.66" r="1.85"/>
<circle cx="626.54" cy="243.84" r="1.85"/>
<circle cx="626.54" cy="245.02" r="1.85"/>
<circle cx="626.54" cy="246.2" r="1.85"/>
<circle cx="626.54" cy="249" r="1.85"/>
<circle cx="626.54" cy="258.2" r="1.85"/>
<line x1="634.44" x2="634.44" y1="217.8" y2="221.6" class="wh"/>
<line x1="634.44" x2="634.44" y1="240.2" y2="269.2" class="wh"/>
<rect x="630.99" y="221.6" width="6.9" height="18.6" fill="#10B54A" class="bx"/>
<line x1="630.99" x2="637.89" y1="225.7" y2="225.7" class="md"/>
<circle cx="634.44" cy="269.2" r="1.85"/>
<circle cx="634.44" cy="270.43" r="1.85"/>
<circle cx="634.44" cy="271.66" r="1.85"/>
<circle cx="634.44" cy="272.89" r="1.85"/>
<circle cx="634.44" cy="274.12" r="1.85"/>
<circle cx="634.44" cy="275.35" r="1.85"/>
<circle cx="634.44" cy="276.58" r="1.85"/>
<circle cx="634.44" cy="277.81" r="1.85"/>
<circle cx="634.44" cy="279.04" r="1.85"/>
<circle cx="634.44" cy="280.27" r="1.85"/>
<circle cx="634.44" cy="281.5" r="1.85"/>
<circle cx="634.44" cy="289.7" r="1.85"/>
<circle cx="634.44" cy="290.95" r="1.85"/>
<circle cx="634.44" cy="292.2" r="1.85"/>
<circle cx="634.44" cy="298.7" r="1.85"/>
<line x1="642.34" x2="642.34" y1="224.6" y2="236.4" class="wh"/>
<line x1="642.34" x2="642.34" y1="267.6" y2="314.3" class="wh"/>
<rect x="638.89" y="236.4" width="6.9" height="31.2" fill="#5E8FDA" class="bx"/>
<line x1="638.89" x2="645.79" y1="250.3" y2="250.3" class="md"/>
<circle cx="642.34" cy="317.6" r="1.85"/>
<circle cx="642.34" cy="320.07" r="1.85"/>
<circle cx="642.34" cy="322.53" r="1.85"/>
<circle cx="642.34" cy="325" r="1.85"/>
<line x1="657.94" x2="657.94" y1="216.7" y2="240.5" class="wh"/>
<line x1="657.94" x2="657.94" y1="270" y2="304.5" class="wh"/>
<rect x="654.49" y="240.5" width="6.9" height="29.5" fill="#EF7166" class="bx"/>
<line x1="654.49" x2="661.39" y1="254.1" y2="254.1" class="md"/>
<line x1="665.84" x2="665.84" y1="228.7" y2="253.6" class="wh"/>
<line x1="665.84" x2="665.84" y1="281.2" y2="319.3" class="wh"/>
<rect x="662.39" y="253.6" width="6.9" height="27.6" fill="#10B54A" class="bx"/>
<line x1="662.39" x2="669.29" y1="265.9" y2="265.9" class="md"/>
<line x1="673.74" x2="673.74" y1="238.8" y2="264.3" class="wh"/>
<line x1="673.74" x2="673.74" y1="290.5" y2="327.5" class="wh"/>
<rect x="670.29" y="264.3" width="6.9" height="26.2" fill="#5E8FDA" class="bx"/>
<line x1="670.29" x2="677.19" y1="276.6" y2="276.6" class="md"/>
<text transform="translate(512.14 343.4) rotate(-30)" class="xt">FICA</text>
<text transform="translate(543.54 343.4) rotate(-30)" class="xt">iVAEar1_r</text>
<text transform="translate(574.94 343.4) rotate(-30)" class="xt">iVAEar1_s</text>
<text transform="translate(606.34 343.4) rotate(-30)" class="xt">iVAEr</text>
<text transform="translate(637.74 343.4) rotate(-30)" class="xt">iVAEs</text>
<text transform="translate(669.14 343.4) rotate(-30)" class="xt">STBSS</text>
<text transform="translate(7.2 78.5) rotate(-90)" class="mc">MCC</text>
<text transform="translate(7.2 271.2) rotate(-90)" class="mc">MCC</text>
<text x="248.2" y="399" class="lg" style="font-size:12.75px">Number of mixing layers</text>
<line x1="394.05" x2="394.05" y1="389.6" y2="399.4" class="wh"/>
<rect x="389.4" y="391.4" width="9.3" height="6" fill="#EF7166" class="bx"/>
<line x1="389.4" x2="398.7" y1="394.4" y2="394.4" class="md"/>
<text x="404.2" y="399" class="lg">1</text>
<line x1="421.25" x2="421.25" y1="389.6" y2="399.4" class="wh"/>
<rect x="416.6" y="391.4" width="9.3" height="6" fill="#10B54A" class="bx"/>
<line x1="416.6" x2="425.9" y1="394.4" y2="394.4" class="md"/>
<text x="430.6" y="399" class="lg">2</text>
<line x1="448.05" x2="448.05" y1="389.6" y2="399.4" class="wh"/>
<rect x="443.4" y="391.4" width="9.3" height="6" fill="#5E8FDA" class="bx"/>
<line x1="443.4" x2="452.7" y1="394.4" y2="394.4" class="md"/>
<text x="457.4" y="399" class="lg">3</text>
</svg>
</body></html>
